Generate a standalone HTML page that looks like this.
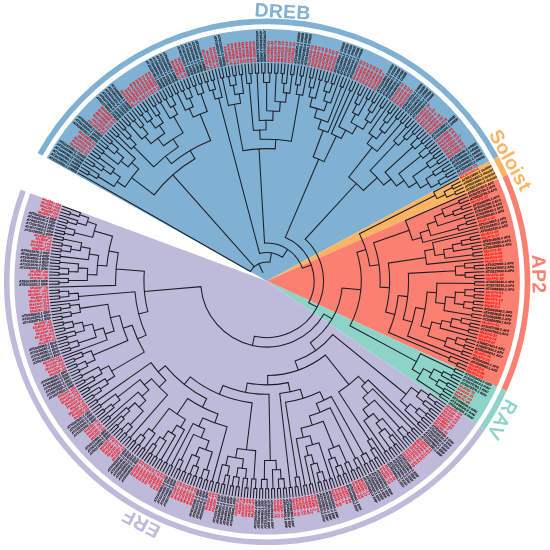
<!DOCTYPE html>
<html lang="en"><head><meta charset="utf-8"><title>AP2/ERF phylogenetic tree</title>
<style>html,body{margin:0;padding:0;background:#fff}svg{display:block}.fam{font-family:"Liberation Sans",Arial,sans-serif;font-weight:bold;font-size:19.4px;letter-spacing:0.3px}.lb{font-family:"Liberation Sans",Arial,sans-serif;font-weight:bold;font-style:italic;font-size:3.1px;fill:#111;stroke:#111;stroke-width:0.14px;opacity:0.92}.lb .r{fill:#f00;stroke:#f00;stroke-width:0.07px;font-size:3.3px}</style></head><body>
<svg width="550" height="550" viewBox="0 0 550 550">
<defs><filter id="soft" x="0" y="0" width="550" height="550" filterUnits="userSpaceOnUse"><feGaussianBlur stdDeviation="0.4"/></filter></defs>
<rect width="550" height="550" fill="#fff"/>
<g>
<path d="M266.8 280.9L46.64 158.08A252.8 252.8 0 0 1 489.26 161.17Z" fill="#80B1D3"/>
<path d="M266.8 280.9L489.26 161.17A252.8 252.8 0 0 1 498.04 178.98Z" fill="#FDB462"/>
<path d="M266.8 280.9L498.04 178.98A252.8 252.8 0 0 1 497.14 386.63Z" fill="#FB8072"/>
<path d="M266.8 280.9L497.14 386.63A252.8 252.8 0 0 1 476.19 423.89Z" fill="#8DD3C7"/>
<path d="M266.8 280.9L476.19 423.89A252.8 252.8 0 0 1 30.31 193.27Z" fill="#BEBADA"/>
</g><g>
<path d="M37.57 152.99A263.2 263.2 0 0 1 498.4 156.21L493.48 158.88A257.6 257.6 0 0 0 42.45 155.74Z" fill="#80B1D3"/>
<path d="M498.4 156.21A263.2 263.2 0 0 1 507.55 174.75L502.43 177.02A257.6 257.6 0 0 0 493.48 158.88Z" fill="#FDB462"/>
<path d="M507.55 174.75A263.2 263.2 0 0 1 506.6 390.95L501.51 388.62A257.6 257.6 0 0 0 502.43 177.02Z" fill="#FB8072"/>
<path d="M506.6 390.95A263.2 263.2 0 0 1 484.79 429.74L480.16 426.59A257.6 257.6 0 0 0 501.51 388.62Z" fill="#8DD3C7"/>
<path d="M484.79 429.74A263.2 263.2 0 0 1 20.57 189.63L25.81 191.59A257.6 257.6 0 0 0 480.16 426.59Z" fill="#BEBADA"/>
</g>
<path d="M250.39 271.52A18.9 18.9 0 0 1 269.87 262.25M250.39 271.52L78.08 173.08M254.26 266.76L172.78 174.82M154.12 194.9A141.75 141.75 0 0 1 194.96 158.7M154.12 194.9L131.58 177.7M125.01 186.94A170.1 170.1 0 0 1 138.75 168.93M125.01 186.94L117.13 181.72M114.07 186.5A179.55 179.55 0 0 1 120.34 177.03M114.07 186.5L97.99 176.57M96.8 178.52A198.45 198.45 0 0 1 99.2 174.63M96.8 178.52L88.7 173.64M87.89 175.01A207.9 207.9 0 0 1 89.53 172.28M87.89 175.01L79.75 170.2M89.53 172.28L81.47 167.34M99.2 174.63L83.24 164.51M120.34 177.03L112.63 171.57M110.77 174.24A189 189 0 0 1 114.54 168.92M110.77 174.24L102.97 168.91M101.69 170.8A198.45 198.45 0 0 1 104.27 167.03M101.69 170.8L93.83 165.56M92.95 166.89A207.9 207.9 0 0 1 94.72 164.24M92.95 166.89L85.05 161.71M94.72 164.24L86.9 158.93M104.27 167.03L88.79 156.19M114.54 168.92L99.32 157.72M98.38 159.01A207.9 207.9 0 0 1 100.27 156.44M98.38 159.01L90.72 153.47M100.27 156.44L92.7 150.79M138.75 168.93L131.64 162.71M128.08 166.91A179.55 179.55 0 0 1 135.33 158.62M128.08 166.91L120.77 160.91M118.05 164.3A189 189 0 0 1 123.57 157.58M118.05 164.3L103.18 152.64M102.2 153.9A207.9 207.9 0 0 1 104.17 151.39M102.2 153.9L94.72 148.13M104.17 151.39L96.77 145.5M123.57 157.58L116.41 151.42M114.44 153.74A198.45 198.45 0 0 1 118.42 149.12M114.44 153.74L107.19 147.68M106.17 148.91A207.9 207.9 0 0 1 108.22 146.46M106.17 148.91L98.87 142.91M108.22 146.46L101.01 140.35M118.42 149.12L111.35 142.85M110.3 144.04A207.9 207.9 0 0 1 112.42 141.66M110.3 144.04L103.18 137.82M112.42 141.66L105.4 135.33M135.33 158.62L107.65 132.87M194.96 158.7L190.17 150.56M171.43 163.57A151.2 151.2 0 0 1 210.65 140.51M171.43 163.57L165.47 156.24M153.67 166.84A160.65 160.65 0 0 1 178.26 146.85M153.67 166.84L133.7 146.71M131.41 149.03A189 189 0 0 1 136.04 144.43M131.41 149.03L117.87 135.84M116.76 136.99A207.9 207.9 0 0 1 118.99 134.7M116.76 136.99L109.94 130.45M118.99 134.7L112.27 128.06M136.04 144.43L129.5 137.61M127.86 139.2A198.45 198.45 0 0 1 131.16 136.04M127.86 139.2L114.63 125.7M131.16 136.04L124.7 129.14M123.54 130.24A207.9 207.9 0 0 1 125.87 128.06M123.54 130.24L117.03 123.39M125.87 128.06L119.46 121.11M178.26 146.85L173.05 138.97M163.48 145.78A170.1 170.1 0 0 1 183.06 132.84M163.48 145.78L157.74 138.27M151.03 143.66A179.55 179.55 0 0 1 164.7 133.2M151.03 143.66L144.93 136.44M141.91 139.04A189 189 0 0 1 148.01 133.9M141.91 139.04L129.42 124.85M128.23 125.91A207.9 207.9 0 0 1 130.63 123.8M128.23 125.91L121.93 118.87M130.63 123.8L124.44 116.66M148.01 133.9L142.07 126.55M140.3 127.99A198.45 198.45 0 0 1 143.85 125.12M140.3 127.99L134.28 120.71M133.05 121.73A207.9 207.9 0 0 1 135.51 119.7M133.05 121.73L126.97 114.5M135.51 119.7L129.54 112.37M143.85 125.12L132.14 110.29M164.7 133.2L159.33 125.43M155.48 128.16A189 189 0 0 1 163.24 122.8M155.48 128.16L149.92 120.52M147.47 122.33A198.45 198.45 0 0 1 152.39 118.75M147.47 122.33L141.79 114.78M140.52 115.75A207.9 207.9 0 0 1 143.07 113.83M140.52 115.75L134.78 108.24M143.07 113.83L137.44 106.24M152.39 118.75L146.94 111.03M145.65 111.95A207.9 207.9 0 0 1 148.25 110.11M145.65 111.95L140.14 104.27M148.25 110.11L142.86 102.35M163.24 122.8L158.06 114.9M156.15 116.16A198.45 198.45 0 0 1 159.98 113.65M156.15 116.16L145.62 100.47M159.98 113.65L154.89 105.69M153.55 106.55A207.9 207.9 0 0 1 156.24 104.84M153.55 106.55L148.4 98.63M156.24 104.84L151.21 96.83M183.06 132.84L173.76 116.39M170 118.57A189 189 0 0 1 177.57 114.29M170 118.57L160.32 102.34M158.95 103.16A207.9 207.9 0 0 1 161.69 101.53M158.95 103.16L154.05 95.08M161.69 101.53L156.91 93.37M177.57 114.29L173.11 105.96M170.43 107.42A198.45 198.45 0 0 1 175.8 104.54M170.43 107.42L165.85 99.16M164.45 99.94A207.9 207.9 0 0 1 167.24 98.39M164.45 99.94L159.8 91.71M167.24 98.39L162.72 90.09M175.8 104.54L171.47 96.14M170.06 96.88A207.9 207.9 0 0 1 172.89 95.42M170.06 96.88L165.66 88.52M172.89 95.42L168.62 86.99M210.65 140.51L200.13 114.19M193.15 117.15A179.55 179.55 0 0 1 207.22 111.52M193.15 117.15L189.28 108.53M185.33 110.36A189 189 0 0 1 193.26 106.79M185.33 110.36L177.18 93.31M175.75 94A207.9 207.9 0 0 1 178.63 92.62M175.75 94L171.61 85.5M178.63 92.62L174.62 84.07M193.26 106.79L189.59 98.09M186.79 99.29A198.45 198.45 0 0 1 192.4 96.92M186.79 99.29L182.98 90.65M181.52 91.29A207.9 207.9 0 0 1 184.44 90.01M181.52 91.29L177.65 82.68M184.44 90.01L180.7 81.33M192.4 96.92L188.86 88.16M187.38 88.77A207.9 207.9 0 0 1 190.34 87.57M187.38 88.77L183.77 80.03M190.34 87.57L186.86 78.78M207.22 111.52L200.95 93.7M198.08 94.73A198.45 198.45 0 0 1 203.83 92.71M198.08 94.73L194.81 85.86M193.32 86.42A207.9 207.9 0 0 1 196.31 85.32M193.32 86.42L189.97 77.58M196.31 85.32L193.1 76.43M203.83 92.71L200.83 83.75M199.32 84.26A207.9 207.9 0 0 1 202.34 83.24M199.32 84.26L196.25 75.32M202.34 83.24L199.41 74.26M269.87 262.25L271.41 252.93M259.57 253.49A28.35 28.35 0 0 1 282.44 257.25M259.57 253.49L218.63 98.14M215.14 99.1A189 189 0 0 1 222.15 97.25M215.14 99.1L212.55 90.01M209.63 90.86A198.45 198.45 0 0 1 215.49 89.2M209.63 90.86L206.91 81.81M205.38 82.28A207.9 207.9 0 0 1 208.44 81.36M205.38 82.28L202.59 73.25M208.44 81.36L205.78 72.29M215.49 89.2L213.04 80.07M211.51 80.49A207.9 207.9 0 0 1 214.59 79.66M211.51 80.49L208.99 71.38M214.59 79.66L212.21 70.52M222.15 97.25L215.45 69.7M282.44 257.25L287.65 249.37M264.58 243.17A37.8 37.8 0 0 1 302.39 268.18M264.58 243.17L259.03 148.83M242.99 150.76A132.3 132.3 0 0 1 275.2 148.87M242.99 150.76L234.48 104.28M228.41 105.5A179.55 179.55 0 0 1 240.6 103.27M228.41 105.5L222.34 77.81M220.79 78.16A207.9 207.9 0 0 1 223.9 77.47M220.79 78.16L218.69 68.94M223.9 77.47L221.95 68.23M240.6 103.27L239.22 93.92M234.92 94.61A189 189 0 0 1 243.53 93.34M234.92 94.61L233.33 85.29M230.33 85.83A198.45 198.45 0 0 1 236.33 84.8M230.33 85.83L228.6 76.54M227.03 76.84A207.9 207.9 0 0 1 230.16 76.25M227.03 76.84L225.22 67.56M230.16 76.25L228.5 66.95M236.33 84.8L234.88 75.46M233.31 75.72A207.9 207.9 0 0 1 236.46 75.23M233.31 75.72L231.79 66.39M236.46 75.23L235.08 65.88M243.53 93.34L241.2 74.58M239.62 74.78A207.9 207.9 0 0 1 242.79 74.39M239.62 74.78L238.38 65.42M242.79 74.39L241.69 65M275.2 148.87L275.8 139.44M260.16 139.31A141.75 141.75 0 0 1 291.32 141.29M260.16 139.31L259.72 129.87M253.37 130.3A151.2 151.2 0 0 1 266.08 129.7M253.37 130.3L249.18 83.23M246.9 83.45A198.45 198.45 0 0 1 251.45 83.04M246.9 83.45L245.01 64.65M251.45 83.04L250.72 73.62M249.13 73.75A207.9 207.9 0 0 1 252.31 73.51M249.13 73.75L248.33 64.34M252.31 73.51L251.65 64.08M266.08 129.7L266.03 120.25M259.3 120.43A160.65 160.65 0 0 1 272.77 120.36M259.3 120.43L257.09 73.23M255.5 73.31A207.9 207.9 0 0 1 258.68 73.16M255.5 73.31L254.98 63.87M258.68 73.16L258.31 63.72M272.77 120.36L273.12 110.92M266.68 110.8A170.1 170.1 0 0 1 279.56 111.28M266.68 110.8L266.66 82.45M263.62 82.48A198.45 198.45 0 0 1 269.71 82.47M263.62 82.48L263.47 73.03M261.87 73.06A207.9 207.9 0 0 1 265.06 73.01M261.87 73.06L261.65 63.61M265.06 73.01L264.98 63.56M269.71 82.47L269.85 73.02M268.25 73.01A207.9 207.9 0 0 1 271.44 73.05M268.25 73.01L268.32 63.56M271.44 73.05L271.65 63.6M279.56 111.28L280.27 101.86M274.94 101.53A179.55 179.55 0 0 1 285.58 102.34M274.94 101.53L276.22 73.21M274.63 73.15A207.9 207.9 0 0 1 277.82 73.29M274.63 73.15L274.99 63.7M277.82 73.29L278.32 63.86M285.58 102.34L286.57 92.94M283.32 92.62A189 189 0 0 1 289.81 93.31M283.32 92.62L284.15 83.21M281.87 83.02A198.45 198.45 0 0 1 286.42 83.42M281.87 83.02L282.59 73.6M281 73.49A207.9 207.9 0 0 1 284.18 73.73M281 73.49L281.65 64.06M284.18 73.73L284.97 64.31M286.42 83.42L288.29 64.62M289.81 93.31L292.11 74.55M290.53 74.36A207.9 207.9 0 0 1 293.7 74.75M290.53 74.36L291.61 64.97M293.7 74.75L294.92 65.38M291.32 141.29L299.49 94.75M296.27 94.21A189 189 0 0 1 302.7 95.34M296.27 94.21L297.75 84.88M295.49 84.53A198.45 198.45 0 0 1 300 85.25M295.49 84.53L298.22 65.83M300 85.25L301.58 75.93M300.01 75.67A207.9 207.9 0 0 1 303.15 76.2M300.01 75.67L301.52 66.34M303.15 76.2L304.81 66.9M302.7 95.34L308.08 67.51M302.39 268.18L311.29 265M285.33 237.43A47.25 47.25 0 0 1 308.68 302.77M285.33 237.43L318.68 159.19M313.18 157A132.3 132.3 0 0 1 324.06 161.64M313.18 157L323.12 130.45M318.23 128.7A160.65 160.65 0 0 1 327.96 132.35M318.23 128.7L321.25 119.75M314.48 117.62A170.1 170.1 0 0 1 327.92 122.16M314.48 117.62L317.13 108.55M309.98 106.62A179.55 179.55 0 0 1 324.19 110.77M309.98 106.62L312.26 97.45M309.08 96.69A189 189 0 0 1 315.42 98.26M309.08 96.69L311.2 87.48M308.97 86.98A198.45 198.45 0 0 1 313.42 88M308.97 86.98L310.98 77.75M309.42 77.41A207.9 207.9 0 0 1 312.53 78.09M309.42 77.41L311.35 68.17M312.53 78.09L314.61 68.87M313.42 88L317.86 69.63M315.42 98.26L320.28 80M318.74 79.59A207.9 207.9 0 0 1 321.82 80.41M318.74 79.59L321.1 70.44M321.82 80.41L324.32 71.3M324.19 110.77L327.21 101.82M323.77 100.69A189 189 0 0 1 330.64 103.01M323.77 100.69L326.62 91.68M323.71 90.78A198.45 198.45 0 0 1 329.51 92.62M323.71 90.78L326.42 81.73M324.89 81.28A207.9 207.9 0 0 1 327.94 82.19M324.89 81.28L327.53 72.21M327.94 82.19L330.72 73.16M329.51 92.62L332.5 83.65M330.99 83.16A207.9 207.9 0 0 1 334.01 84.16M330.99 83.16L333.9 74.17M334.01 84.16L337.07 75.22M330.64 103.01L340.21 76.32M327.92 122.16L341.51 86.89M340.02 86.32A207.9 207.9 0 0 1 342.99 87.47M340.02 86.32L343.34 77.47M342.99 87.47L346.46 78.67M327.96 132.35L349.55 79.92M324.06 161.64L336.34 136.08M331.37 133.8A160.65 160.65 0 0 1 341.22 138.53M331.37 133.8L350.36 90.53M348.89 89.89A207.9 207.9 0 0 1 351.81 91.18M348.89 89.89L352.62 81.21M351.81 91.18L355.68 82.55M341.22 138.53L345.6 130.15M338.73 126.76A170.1 170.1 0 0 1 352.31 133.86M338.73 126.76L358.71 83.94M352.31 133.86L357.07 125.69M351.05 122.34A179.55 179.55 0 0 1 362.95 129.26M351.05 122.34L355.48 114M352.59 112.49A189 189 0 0 1 358.35 115.55M352.59 112.49L356.88 104.07M354.83 103.05A198.45 198.45 0 0 1 358.9 105.12M354.83 103.05L359.03 94.58M357.59 93.87A207.9 207.9 0 0 1 360.45 95.29M357.59 93.87L361.72 85.37M360.45 95.29L364.71 86.85M358.9 105.12L367.68 88.38M358.35 115.55L367.5 99.02M366.1 98.25A207.9 207.9 0 0 1 368.9 99.8M366.1 98.25L370.62 89.95M368.9 99.8L373.54 91.56M362.95 129.26L368.01 121.28M365.24 119.56A189 189 0 0 1 370.75 123.05M365.24 119.56L370.16 111.49M368.21 110.32A198.45 198.45 0 0 1 372.11 112.69M368.21 110.32L373.04 102.19M371.66 101.38A207.9 207.9 0 0 1 374.4 103.01M371.66 101.38L376.43 93.22M374.4 103.01L379.3 94.93M372.11 112.69L382.14 96.68M370.75 123.05L381.15 107.27M379.81 106.4A207.9 207.9 0 0 1 382.48 108.15M379.81 106.4L384.95 98.47M382.48 108.15L387.73 100.3M308.68 302.77L317.06 307.15M305.17 239.15A56.7 56.7 0 0 1 254.46 336.24M305.17 239.15L356.32 183.49M348.77 177.05A132.3 132.3 0 0 1 363.38 190.48M348.77 177.05L372.19 147.38M367.19 143.58A170.1 170.1 0 0 1 377.05 151.36M367.19 143.58L372.77 135.95M368.98 133.26A179.55 179.55 0 0 1 376.48 138.75M368.98 133.26L390.49 102.18M376.48 138.75L382.26 131.26M379.66 129.29A189 189 0 0 1 384.82 133.28M379.66 129.29L385.3 121.71M383.46 120.36A198.45 198.45 0 0 1 387.12 123.09M383.46 120.36L389.02 112.72M387.72 111.78A207.9 207.9 0 0 1 390.3 113.66M387.72 111.78L393.22 104.1M390.3 113.66L395.92 106.06M387.12 123.09L398.58 108.06M384.82 133.28L396.62 118.52M395.38 117.53A207.9 207.9 0 0 1 397.87 119.52M395.38 117.53L401.22 110.1M397.87 119.52L403.82 112.18M377.05 151.36L401.55 122.58M400.33 121.55A207.9 207.9 0 0 1 402.76 123.62M400.33 121.55L406.4 114.31M402.76 123.62L408.94 116.47M363.38 190.48L377.17 177.56M370.2 170.59A151.2 151.2 0 0 1 383.67 184.97M370.2 170.59L396.05 143.01M393.65 140.8A189 189 0 0 1 398.42 145.26M393.65 140.8L406.34 126.79M405.15 125.72A207.9 207.9 0 0 1 407.52 127.86M405.15 125.72L411.44 118.67M407.52 127.86L413.91 120.91M398.42 145.26L405 138.48M403.35 136.9A198.45 198.45 0 0 1 406.63 140.08M403.35 136.9L416.35 123.18M406.63 140.08L413.28 133.37M412.15 132.25A207.9 207.9 0 0 1 414.41 134.5M412.15 132.25L418.75 125.49M414.41 134.5L421.12 127.84M383.67 184.97L390.98 178.98M385.12 172.23A160.65 160.65 0 0 1 396.45 186.04M385.12 172.23L412.96 146.66M410.88 144.43A198.45 198.45 0 0 1 415 148.92M410.88 144.43L417.74 137.94M416.64 136.78A207.9 207.9 0 0 1 418.83 139.1M416.64 136.78L423.45 130.23M418.83 139.1L425.74 132.65M415 148.92L422.06 142.63M420.99 141.45A207.9 207.9 0 0 1 423.11 143.83M420.99 141.45L428 135.11M423.11 143.83L430.22 137.6M396.45 186.04L404.08 180.46M398.9 173.74A170.1 170.1 0 0 1 408.91 187.42M398.9 173.74L420.92 155.88M418.98 153.53A198.45 198.45 0 0 1 422.82 158.26M418.98 153.53L426.23 147.46M425.2 146.24A207.9 207.9 0 0 1 427.25 148.69M425.2 146.24L432.4 140.12M427.25 148.69L434.54 142.68M422.82 158.26L430.25 152.42M429.26 151.17A207.9 207.9 0 0 1 431.23 153.67M429.26 151.17L436.64 145.27M431.23 153.67L438.7 147.89M408.91 187.42L416.81 182.23M412.91 176.55A179.55 179.55 0 0 1 420.48 188.06M412.91 176.55L428.29 165.57M426.51 163.1A198.45 198.45 0 0 1 430.05 168.06M426.51 163.1L434.11 157.49M433.16 156.21A207.9 207.9 0 0 1 435.05 158.78M433.16 156.21L440.72 150.54M435.05 158.78L442.7 153.23M430.05 168.06L437.82 162.68M436.91 161.38A207.9 207.9 0 0 1 438.72 164M436.91 161.38L444.64 155.94M438.72 164L446.54 158.69M420.48 188.06L428.57 183.17M425.89 178.86A189 189 0 0 1 431.14 187.55M425.89 178.86L433.84 173.76M432.6 171.84A198.45 198.45 0 0 1 435.06 175.69M432.6 171.84L448.39 161.46M435.06 175.69L443.08 170.68M442.23 169.33A207.9 207.9 0 0 1 443.92 172.03M442.23 169.33L450.2 164.26M443.92 172.03L451.97 167.09M431.14 187.55L439.35 182.88M438.21 180.9A198.45 198.45 0 0 1 440.47 184.87M438.21 180.9L446.38 176.14M445.57 174.76A207.9 207.9 0 0 1 447.17 177.52M445.57 174.76L453.69 169.94M447.17 177.52L455.37 172.82M440.47 184.87L457.01 175.73M254.46 336.24L252.4 345.46M324.02 314.09A66.15 66.15 0 0 1 200.9 286.63M324.02 314.09L332.2 318.83M342.07 287.99A75.6 75.6 0 0 1 310.33 342.71M342.07 287.99L360.88 289.76M356.89 252.37A94.5 94.5 0 0 1 349.98 325.75M356.89 252.37L365.9 249.51M359.48 233.83A103.95 103.95 0 0 1 369.68 266.03M359.48 233.83L435.31 195.32M433.6 192.02A189 189 0 0 1 436.96 198.64M433.6 192.02L458.62 178.69M436.96 198.64L445.47 194.53M444.09 191.73A198.45 198.45 0 0 1 446.8 197.35M444.09 191.73L452.53 187.49M451.79 186.03A207.9 207.9 0 0 1 453.26 188.95M451.79 186.03L460.2 181.72M453.26 188.95L461.74 184.77M446.8 197.35L455.37 193.37M454.68 191.89A207.9 207.9 0 0 1 456.06 194.85M454.68 191.89L463.22 187.84M456.06 194.85L464.66 190.94M369.68 266.03L379.03 264.68M373.63 242.86A113.4 113.4 0 0 1 380.03 287.13M373.63 242.86L409.24 230.19M405.4 220.47A151.2 151.2 0 0 1 412.4 240.15M405.4 220.47L466.03 194.03M412.4 240.15L421.5 237.6M420.09 232.82A160.65 160.65 0 0 1 422.77 242.42M420.09 232.82L429.1 229.99M427.22 224.33A170.1 170.1 0 0 1 430.79 235.72M427.22 224.33L436.13 221.18M434.4 216.49A179.55 179.55 0 0 1 437.73 225.93M434.4 216.49L443.22 213.09M441.74 209.38A189 189 0 0 1 444.61 216.84M441.74 209.38L459.24 202.22M458.63 200.75A207.9 207.9 0 0 1 459.84 203.71M458.63 200.75L467.35 197.1M459.84 203.71L468.61 200.2M444.61 216.84L453.5 213.64M452.72 211.49A198.45 198.45 0 0 1 454.27 215.8M452.72 211.49L461.57 208.18M461 206.69A207.9 207.9 0 0 1 462.12 209.69M461 206.69L469.83 203.31M462.12 209.69L471 206.45M454.27 215.8L472.12 209.6M437.73 225.93L464.72 217.25M464.22 215.73A207.9 207.9 0 0 1 465.2 218.78M464.22 215.73L473.2 212.77M465.2 218.78L474.22 215.95M430.79 235.72L458.12 228.19M457.5 225.99A198.45 198.45 0 0 1 458.72 230.4M457.5 225.99L466.58 223.37M466.13 221.84A207.9 207.9 0 0 1 467.02 224.91M466.13 221.84L475.19 219.15M467.02 224.91L476.12 222.37M458.72 230.4L477 225.6M422.77 242.42L477.82 228.84M380.03 287.13L389.46 287.65M388.34 263.04A122.85 122.85 0 0 1 385.65 312M388.34 263.04L425.74 257.54M424.6 250.8A160.65 160.65 0 0 1 426.59 264.32M424.6 250.8L433.89 249.03M432.56 242.7A170.1 170.1 0 0 1 434.98 255.4M432.56 242.7L478.6 232.09M434.98 255.4L444.32 253.98M443.62 249.72A179.55 179.55 0 0 1 444.92 258.26M443.62 249.72L452.93 248.08M452.33 244.86A189 189 0 0 1 453.47 251.3M452.33 244.86L461.61 243.06M461.16 240.81A198.45 198.45 0 0 1 462.03 245.31M461.16 240.81L470.41 238.9M470.08 237.34A207.9 207.9 0 0 1 470.73 240.47M470.08 237.34L479.32 235.36M470.73 240.47L480 238.63M462.03 245.31L480.63 241.92M453.47 251.3L472.14 248.34M471.88 246.77A207.9 207.9 0 0 1 472.38 249.93M471.88 246.77L481.2 245.21M472.38 249.93L481.72 248.52M444.92 258.26L473.04 254.68M472.83 253.09A207.9 207.9 0 0 1 473.24 256.27M472.83 253.09L482.2 251.83M473.24 256.27L482.62 255.15M426.59 264.32L482.99 258.47M385.65 312L394.79 314.39M398.28 295.58A132.3 132.3 0 0 1 388.62 332.5M398.28 295.58L407.67 296.63M408.35 273.34A141.75 141.75 0 0 1 403.2 319.49M408.35 273.34L455.53 270.82M455.25 266.47A189 189 0 0 1 455.71 275.18M455.25 266.47L464.67 265.75M464.48 263.46A198.45 198.45 0 0 1 464.83 268.03M464.48 263.46L483.31 261.8M464.83 268.03L474.26 267.42M474.15 265.82A207.9 207.9 0 0 1 474.36 269.01M474.15 265.82L483.58 265.14M474.36 269.01L483.79 268.47M455.71 275.18L465.16 274.89M465.08 272.61A198.45 198.45 0 0 1 465.22 277.18M465.08 272.61L483.96 271.82M465.22 277.18L474.66 277.01M474.63 275.41A207.9 207.9 0 0 1 474.69 278.61M474.63 275.41L484.07 275.16M474.69 278.61L484.14 278.5M403.2 319.49L412.29 322.07M415.62 307.63A151.2 151.2 0 0 1 407.56 336.1M415.62 307.63L424.92 309.31M427.06 292.1A160.65 160.65 0 0 1 420.94 326.18M427.06 292.1L436.49 292.76M436.89 282.95A170.1 170.1 0 0 1 435.52 302.53M436.89 282.95L474.68 283.41M474.7 281.81A207.9 207.9 0 0 1 474.66 285.01M474.7 281.81L484.15 281.85M474.66 285.01L484.11 285.19M435.52 302.53L444.89 303.73M445.64 296.86A179.55 179.55 0 0 1 443.88 310.56M445.64 296.86L455.05 297.7M455.48 291.9A189 189 0 0 1 454.45 303.49M455.48 291.9L464.91 292.45M465.07 289.4A198.45 198.45 0 0 1 464.71 295.5M465.07 289.4L474.51 289.8M474.57 288.21A207.9 207.9 0 0 1 474.43 291.4M474.57 288.21L484.02 288.54M474.43 291.4L483.87 291.88M464.71 295.5L474.14 296.19M474.25 294.6A207.9 207.9 0 0 1 474.01 297.79M474.25 294.6L483.68 295.22M474.01 297.79L483.43 298.55M454.45 303.49L463.83 304.62M464.17 301.58A198.45 198.45 0 0 1 463.44 307.65M464.17 301.58L473.57 302.57M473.73 300.97A207.9 207.9 0 0 1 473.4 304.16M473.73 300.97L483.13 301.89M473.4 304.16L482.79 305.21M463.44 307.65L472.8 308.92M473.01 307.33A207.9 207.9 0 0 1 472.58 310.5M473.01 307.33L482.39 308.53M472.58 310.5L481.94 311.85M443.88 310.56L471.84 315.25M472.1 313.67A207.9 207.9 0 0 1 471.57 316.82M472.1 313.67L481.43 315.16M471.57 316.82L480.88 318.46M420.94 326.18L430 328.84M431.87 321.97A170.1 170.1 0 0 1 427.86 335.63M431.87 321.97L441.04 324.26M441.95 320.39A179.55 179.55 0 0 1 440.04 328.1M441.95 320.39L451.17 322.47M452.01 318.56A189 189 0 0 1 450.25 326.36M452.01 318.56L461.27 320.44M461.71 318.19A198.45 198.45 0 0 1 460.8 322.68M461.71 318.19L480.28 321.75M460.8 322.68L470.04 324.67M470.37 323.11A207.9 207.9 0 0 1 469.7 326.24M470.37 323.11L479.62 325.03M469.7 326.24L478.92 328.3M450.25 326.36L468.6 330.91M468.97 329.35A207.9 207.9 0 0 1 468.21 332.46M468.97 329.35L478.16 331.56M468.21 332.46L477.36 334.8M440.04 328.1L476.51 338.04M427.86 335.63L445.75 341.71M447.11 337.56A189 189 0 0 1 444.3 345.82M447.11 337.56L456.12 340.39M457.02 337.47A198.45 198.45 0 0 1 455.18 343.3M457.02 337.47L466.07 340.17M466.52 338.63A207.9 207.9 0 0 1 465.61 341.7M466.52 338.63L475.6 341.26M465.61 341.7L474.65 344.46M455.18 343.3L464.15 346.27M464.65 344.75A207.9 207.9 0 0 1 463.65 347.79M464.65 344.75L473.64 347.65M463.65 347.79L472.59 350.83M444.3 345.82L462.05 352.32M462.59 350.81A207.9 207.9 0 0 1 461.49 353.82M462.59 350.81L471.49 353.99M461.49 353.82L470.34 357.13M407.56 336.1L469.15 360.25M388.62 332.5L449.53 358.3M450.41 356.19A198.45 198.45 0 0 1 448.63 360.41M450.41 356.19L467.9 363.36M448.63 360.41L457.29 364.19M457.92 362.72A207.9 207.9 0 0 1 456.64 365.66M457.92 362.72L466.61 366.44M456.64 365.66L465.27 369.51M349.98 325.75L416.53 361.62M420.48 353.81A170.1 170.1 0 0 1 412.18 369.22M420.48 353.81L454.63 370.02M455.31 368.57A207.9 207.9 0 0 1 453.94 371.46M455.31 368.57L463.88 372.55M453.94 371.46L462.45 375.58M412.18 369.22L420.25 374.12M423.47 368.6A179.55 179.55 0 0 1 416.84 379.52M423.47 368.6L431.72 373.22M433.98 369.07A189 189 0 0 1 429.36 377.32M433.98 369.07L442.33 373.48M443.39 371.44A198.45 198.45 0 0 1 441.25 375.5M443.39 371.44L451.8 375.75M452.52 374.33A207.9 207.9 0 0 1 451.06 377.18M452.52 374.33L460.97 378.57M451.06 377.18L459.44 381.55M441.25 375.5L457.87 384.5M429.36 377.32L437.49 382.14M439.02 379.5A198.45 198.45 0 0 1 435.91 384.75M439.02 379.5L447.22 384.19M448.01 382.8A207.9 207.9 0 0 1 446.42 385.58M448.01 382.8L456.25 387.43M446.42 385.58L454.59 390.34M435.91 384.75L443.96 389.7M444.79 388.33A207.9 207.9 0 0 1 443.12 391.06M444.79 388.33L452.88 393.21M443.12 391.06L451.13 396.06M416.84 379.52L440.53 395.1M441.4 393.76A207.9 207.9 0 0 1 439.64 396.43M441.4 393.76L449.34 398.89M439.64 396.43L447.5 401.68M310.33 342.71L315.77 350.44M332.76 334.59A85.05 85.05 0 0 1 295.12 361.1M332.76 334.59L406.05 394.25M411.28 387.5A179.55 179.55 0 0 1 400.51 400.74M411.28 387.5L418.89 393.11M421.22 389.87A189 189 0 0 1 416.48 396.3M421.22 389.87L428.94 395.32M430.14 393.6A198.45 198.45 0 0 1 427.73 397.03M430.14 393.6L445.7 404.33M427.73 397.03L435.39 402.56M436.24 401.36A207.9 207.9 0 0 1 434.53 403.74M436.24 401.36L443.94 406.84M434.53 403.74L442.15 409.32M416.48 396.3L423.96 402.07M425.24 400.4A198.45 198.45 0 0 1 422.68 403.72M425.24 400.4L440.33 411.78M422.68 403.72L430.1 409.57M431 408.42A207.9 207.9 0 0 1 429.19 410.72M431 408.42L438.46 414.21M429.19 410.72L436.57 416.62M400.51 400.74L407.54 407.04M410.18 404.04A189 189 0 0 1 404.85 409.99M410.18 404.04L417.35 410.2M419.15 408.07A198.45 198.45 0 0 1 415.51 412.31M419.15 408.07L426.41 414.12M427.34 412.99A207.9 207.9 0 0 1 425.47 415.24M427.34 412.99L434.64 419M425.47 415.24L432.68 421.35M415.51 412.31L422.59 418.57M423.56 417.46A207.9 207.9 0 0 1 421.62 419.66M423.56 417.46L430.68 423.67M421.62 419.66L428.65 425.97M404.85 409.99L418.65 422.9M419.65 421.83A207.9 207.9 0 0 1 417.65 423.97M419.65 421.83L426.59 428.23M417.65 423.97L424.5 430.47M295.12 361.1L298.27 370.01M325.45 354.99A94.5 94.5 0 0 1 267.68 375.4M325.45 354.99L348.92 384.63M358.44 376.33A132.3 132.3 0 0 1 338.65 391.99M358.44 376.33L364.98 383.14M368.26 379.88A141.75 141.75 0 0 1 361.59 386.29M368.26 379.88L422.38 432.68M361.59 386.29L367.91 393.32M372.77 388.75A151.2 151.2 0 0 1 362.85 397.67M372.77 388.75L412.51 429.19M413.56 428.16A207.9 207.9 0 0 1 411.47 430.21M413.56 428.16L420.23 434.85M411.47 430.21L418.04 437M362.85 397.67L368.86 404.97M374.45 400.14A160.65 160.65 0 0 1 363.04 409.53M374.45 400.14L399.79 428.2M401.85 426.31A198.45 198.45 0 0 1 397.7 430.06M401.85 426.31L408.28 433.24M409.35 432.24A207.9 207.9 0 0 1 407.2 434.23M409.35 432.24L415.83 439.11M407.2 434.23L413.58 441.2M397.7 430.06L403.93 437.16M405.03 436.19A207.9 207.9 0 0 1 402.83 438.12M405.03 436.19L411.31 443.25M402.83 438.12L409.01 445.27M363.04 409.53L368.7 417.1M373.38 413.47A170.1 170.1 0 0 1 363.9 420.56M373.38 413.47L379.3 420.84M382.35 418.33A179.55 179.55 0 0 1 376.19 423.28M382.35 418.33L406.68 447.26M376.19 423.28L381.95 430.77M384.83 428.51A189 189 0 0 1 379.02 432.98M384.83 428.51L390.73 435.89M392.36 434.58A198.45 198.45 0 0 1 389.09 437.2M392.36 434.58L404.32 449.21M389.09 437.2L394.91 444.64M396.06 443.73A207.9 207.9 0 0 1 393.75 445.54M396.06 443.73L401.94 451.13M393.75 445.54L399.52 453.02M379.02 432.98L390.25 448.18M391.42 447.31A207.9 207.9 0 0 1 389.06 449.05M391.42 447.31L397.09 454.87M389.06 449.05L394.62 456.69M363.9 420.56L385.48 451.59M386.68 450.75A207.9 207.9 0 0 1 384.28 452.43M386.68 450.75L392.13 458.48M384.28 452.43L389.62 460.22M338.65 391.99L369.44 439.6M371.39 438.32A189 189 0 0 1 367.48 440.85M371.39 438.32L387.08 461.94M367.48 440.85L372.51 448.85M374.28 447.72A198.45 198.45 0 0 1 370.73 449.96M374.28 447.72L384.52 463.61M370.73 449.96L375.68 458.01M376.92 457.24A207.9 207.9 0 0 1 374.43 458.77M376.92 457.24L381.93 465.25M374.43 458.77L379.32 466.86M267.68 375.4L267.77 384.85M288.18 382.63A103.95 103.95 0 0 1 247.32 383.01M288.18 382.63L290.12 391.88M300.3 389.24A113.4 113.4 0 0 1 279.75 393.56M300.3 389.24L303.09 398.27M319.86 391.7A122.85 122.85 0 0 1 285.54 402.31M319.86 391.7L323.94 400.23M331.26 396.43A132.3 132.3 0 0 1 316.39 403.55M331.26 396.43L363.49 454.2M365.93 452.82A198.45 198.45 0 0 1 361.04 455.54M365.93 452.82L370.65 461.01M371.91 460.27A207.9 207.9 0 0 1 369.37 461.73M371.91 460.27L376.69 468.42M369.37 461.73L374.04 469.95M361.04 455.54L365.53 463.86M366.82 463.16A207.9 207.9 0 0 1 364.24 464.55M366.82 463.16L371.36 471.45M364.24 464.55L368.67 472.9M316.39 403.55L319.93 412.32M330.13 407.72A141.75 141.75 0 0 1 309.41 416.1M330.13 407.72L355.46 458.44M357.33 457.5A198.45 198.45 0 0 1 353.58 459.37M357.33 457.5L365.95 474.32M353.58 459.37L357.71 467.87M359.03 467.22A207.9 207.9 0 0 1 356.39 468.51M359.03 467.22L363.22 475.69M356.39 468.51L360.46 477.03M309.41 416.1L312.25 425.11M323.18 421.19A151.2 151.2 0 0 1 301.04 428.17M323.18 421.19L333.75 447.5M339 445.29A179.55 179.55 0 0 1 328.44 449.54M339 445.29L346.6 462.6M348.52 461.75A198.45 198.45 0 0 1 344.68 463.43M348.52 461.75L352.41 470.36M353.74 469.75A207.9 207.9 0 0 1 351.07 470.96M353.74 469.75L357.69 478.33M351.07 470.96L354.9 479.59M344.68 463.43L352.09 480.82M328.44 449.54L331.68 458.41M334.8 457.24A189 189 0 0 1 328.55 459.53M334.8 457.24L338.2 466.06M340.8 465.04A198.45 198.45 0 0 1 335.58 467.05M340.8 465.04L344.32 473.81M345.68 473.25A207.9 207.9 0 0 1 342.96 474.35M345.68 473.25L349.27 482M342.96 474.35L346.43 483.14M335.58 467.05L338.86 475.91M340.23 475.4A207.9 207.9 0 0 1 337.48 476.42M340.23 475.4L343.57 484.24M337.48 476.42L340.7 485.3M328.55 459.53L337.81 486.32M301.04 428.17L303.18 437.38M309.97 435.64A160.65 160.65 0 0 1 296.33 438.81M309.97 435.64L312.51 444.74M318.96 442.8A170.1 170.1 0 0 1 305.98 446.43M318.96 442.8L330.55 478.78M331.95 478.33A207.9 207.9 0 0 1 329.16 479.23M331.95 478.33L334.91 487.3M329.16 479.23L331.99 488.24M305.98 446.43L308.16 455.62M311.53 454.79A179.55 179.55 0 0 1 304.76 456.39M311.53 454.79L313.89 463.94M317.1 463.08A189 189 0 0 1 310.66 464.74M317.1 463.08L319.62 472.19M322.31 471.43A198.45 198.45 0 0 1 316.92 472.92M322.31 471.43L324.95 480.5M326.36 480.09A207.9 207.9 0 0 1 323.55 480.91M326.36 480.09L329.06 489.14M323.55 480.91L326.12 490M316.92 472.92L319.31 482.06M320.72 481.69A207.9 207.9 0 0 1 317.89 482.43M320.72 481.69L323.17 490.81M317.89 482.43L320.21 491.59M310.66 464.74L317.24 492.32M304.76 456.39L310.76 484.1M312.19 483.78A207.9 207.9 0 0 1 309.33 484.4M312.19 483.78L314.25 493.01M309.33 484.4L311.26 493.65M296.33 438.81L305.02 485.26M306.45 484.98A207.9 207.9 0 0 1 303.58 485.52M306.45 484.98L308.26 494.26M303.58 485.52L305.25 494.82M285.54 402.31L297.08 477.03M299.15 476.7A198.45 198.45 0 0 1 295 477.34M299.15 476.7L302.23 495.34M295 477.34L296.35 486.69M297.8 486.48A207.9 207.9 0 0 1 294.9 486.89M297.8 486.48L299.2 495.82M294.9 486.89L296.17 496.26M279.75 393.56L290.54 487.44M291.99 487.27A207.9 207.9 0 0 1 289.08 487.6M291.99 487.27L293.14 496.65M289.08 487.6L290.09 497M247.32 383.01L245.54 392.29M268.99 394.28A113.4 113.4 0 0 1 223.01 385.51M268.99 394.28L270.27 460.42M275.96 460.22A179.55 179.55 0 0 1 264.58 460.44M275.96 460.22L276.44 469.65M280.42 469.41A189 189 0 0 1 272.45 469.82M280.42 469.41L281.11 478.83M283.89 478.61A198.45 198.45 0 0 1 278.32 479.02M283.89 478.61L284.71 488.03M286.17 487.9A207.9 207.9 0 0 1 283.25 488.15M286.17 487.9L287.05 497.3M283.25 488.15L284 497.57M278.32 479.02L278.86 488.45M280.33 488.36A207.9 207.9 0 0 1 277.4 488.53M280.33 488.36L280.94 497.79M277.4 488.53L277.88 497.97M272.45 469.82L273.01 488.71M274.48 488.66A207.9 207.9 0 0 1 271.55 488.75M274.48 488.66L274.82 498.1M271.55 488.75L271.76 498.19M264.58 460.44L264.34 479.33M267.14 479.35A198.45 198.45 0 0 1 261.55 479.28M267.14 479.35L267.15 488.8M268.62 488.79A207.9 207.9 0 0 1 265.69 488.8M268.62 488.79L268.7 498.24M265.69 488.8L265.64 498.25M261.55 479.28L261.3 488.73M262.76 488.76A207.9 207.9 0 0 1 259.83 488.68M262.76 488.76L262.58 498.21M259.83 488.68L259.52 498.13M223.01 385.51L219.36 394.22M252.12 402.87A122.85 122.85 0 0 1 190.22 376.96M252.12 402.87L246.47 449.78M255.71 450.64A170.1 170.1 0 0 1 237.28 448.42M255.71 450.64L253.87 478.93M255.96 479.05A198.45 198.45 0 0 1 251.77 478.78M255.96 479.05L255.44 488.49M256.91 488.56A207.9 207.9 0 0 1 253.98 488.4M256.91 488.56L256.46 498M253.98 488.4L253.4 497.84M251.77 478.78L250.34 497.63M237.28 448.42L235.64 457.73M243.46 458.93A179.55 179.55 0 0 1 227.89 456.18M243.46 458.93L242.23 468.3M246.52 468.81A189 189 0 0 1 237.94 467.68M246.52 468.81L245.51 478.2M247.6 478.42A198.45 198.45 0 0 1 243.43 477.97M247.6 478.42L246.68 487.82M248.14 487.96A207.9 207.9 0 0 1 245.22 487.68M248.14 487.96L247.29 497.37M245.22 487.68L244.24 497.08M243.43 477.97L241.2 496.74M237.94 467.68L236.5 477.02M239.27 477.43A198.45 198.45 0 0 1 233.74 476.58M239.27 477.43L237.95 486.79M239.41 486.99A207.9 207.9 0 0 1 236.51 486.58M239.41 486.99L238.16 496.35M236.51 486.58L235.13 495.93M233.74 476.58L232.17 485.89M233.61 486.13A207.9 207.9 0 0 1 230.72 485.65M233.61 486.13L232.1 495.46M230.72 485.65L229.08 494.95M227.89 456.18L225.84 465.41M229.42 466.17A189 189 0 0 1 222.27 464.58M229.42 466.17L227.55 475.43M229.61 475.83A198.45 198.45 0 0 1 225.5 475M229.61 475.83L226.07 494.4M225.5 475L223.53 484.25M224.97 484.55A207.9 207.9 0 0 1 222.1 483.94M224.97 484.55L223.07 493.8M222.1 483.94L220.07 493.17M222.27 464.58L217.82 482.95M219.25 483.29A207.9 207.9 0 0 1 216.4 482.6M219.25 483.29L217.08 492.49M216.4 482.6L214.11 491.77M190.22 376.96L184.33 384.35M206.65 398.74A132.3 132.3 0 0 1 165.33 365.79M206.65 398.74L202.36 407.15M218.01 413.99A141.75 141.75 0 0 1 187.64 398.49M218.01 413.99L214.75 422.86M227.05 426.78A151.2 151.2 0 0 1 202.83 417.9M227.05 426.78L212.15 481.49M213.56 481.87A207.9 207.9 0 0 1 210.74 481.1M213.56 481.87L211.14 491M210.74 481.1L208.19 490.2M202.83 417.9L198.83 426.46M204.78 429.1A160.65 160.65 0 0 1 192.99 423.59M204.78 429.1L201.14 437.81M208.95 440.86A170.1 170.1 0 0 1 193.48 434.39M208.95 440.86L205.74 449.75M212.32 451.99A179.55 179.55 0 0 1 199.24 447.26M212.32 451.99L206.59 469.99M209.26 470.82A198.45 198.45 0 0 1 203.93 469.13M209.26 470.82L206.52 479.87M207.92 480.29A207.9 207.9 0 0 1 205.12 479.44M207.92 480.29L205.24 489.35M205.12 479.44L202.31 488.46M203.93 469.13L200.94 478.09M202.33 478.55A207.9 207.9 0 0 1 199.55 477.62M202.33 478.55L199.4 487.53M199.55 477.62L196.49 486.56M199.24 447.26L195.69 456.01M199.4 457.47A189 189 0 0 1 192 454.47M199.4 457.47L196.03 466.3M198.65 467.28A198.45 198.45 0 0 1 193.43 465.29M198.65 467.28L195.41 476.16M196.78 476.66A207.9 207.9 0 0 1 194.03 475.65M196.78 476.66L193.6 485.55M194.03 475.65L190.72 484.5M193.43 465.29L189.93 474.07M191.3 474.6A207.9 207.9 0 0 1 188.57 473.52M191.3 474.6L187.86 483.41M188.57 473.52L185.02 482.28M192 454.47L184.52 471.83M185.87 472.4A207.9 207.9 0 0 1 183.18 471.24M185.87 472.4L182.19 481.1M183.18 471.24L179.38 479.89M193.48 434.39L181.26 459.97M183.16 460.86A198.45 198.45 0 0 1 179.37 459.05M183.16 460.86L179.17 469.43M180.5 470.04A207.9 207.9 0 0 1 177.85 468.81M180.5 470.04L176.58 478.64M177.85 468.81L173.8 477.35M179.37 459.05L171.05 476.02M192.99 423.59L171.29 465.56M172.59 466.23A207.9 207.9 0 0 1 169.99 464.88M172.59 466.23L168.31 474.65M169.99 464.88L165.59 473.25M187.64 398.49L177.09 414.17M185.38 419.39A160.65 160.65 0 0 1 169.13 408.45M185.38 419.39L180.59 427.53M184.43 429.72A170.1 170.1 0 0 1 176.81 425.25M184.43 429.72L166.12 462.8M167.4 463.5A207.9 207.9 0 0 1 164.84 462.08M167.4 463.5L162.89 471.8M164.84 462.08L160.21 470.32M176.81 425.25L171.81 433.26M175.46 435.48A179.55 179.55 0 0 1 168.21 430.96M175.46 435.48L161.04 459.89M162.3 460.63A207.9 207.9 0 0 1 159.78 459.14M162.3 460.63L157.55 468.8M159.78 459.14L154.91 467.24M168.21 430.96L163.02 438.86M166.1 440.84A189 189 0 0 1 159.98 436.82M166.1 440.84L156.03 456.84M157.28 457.61A207.9 207.9 0 0 1 154.8 456.05M157.28 457.61L152.3 465.64M154.8 456.05L149.71 464.01M159.98 436.82L154.64 444.62M156.38 445.79A198.45 198.45 0 0 1 152.92 443.42M156.38 445.79L151.12 453.65M152.34 454.46A207.9 207.9 0 0 1 149.91 452.83M152.34 454.46L147.14 462.34M149.91 452.83L144.59 460.64M152.92 443.42L142.07 458.9M169.13 408.45L151.9 430.96M155.1 433.36A189 189 0 0 1 148.75 428.5M155.1 433.36L143.92 448.6M145.11 449.46A207.9 207.9 0 0 1 142.75 447.73M145.11 449.46L139.58 457.13M142.75 447.73L137.11 455.32M148.75 428.5L142.85 435.88M145.05 437.61A198.45 198.45 0 0 1 140.68 434.12M145.05 437.61L139.25 445.07M140.41 445.97A207.9 207.9 0 0 1 138.1 444.17M140.41 445.97L134.66 453.47M138.1 444.17L132.24 451.59M140.68 434.12L134.67 441.41M135.81 442.34A207.9 207.9 0 0 1 133.55 440.48M135.81 442.34L129.85 449.68M133.55 440.48L127.49 447.73M165.33 365.79L158.08 371.86M165.92 380.49A141.75 141.75 0 0 1 150.97 362.61M165.92 380.49L159.2 387.12M167.46 394.88A151.2 151.2 0 0 1 151.55 378.77M167.46 394.88L130.2 437.63M131.31 438.59A207.9 207.9 0 0 1 129.1 436.66M131.31 438.59L125.15 445.75M129.1 436.66L122.84 443.74M151.55 378.77L144.34 384.88M148.82 389.94A160.65 160.65 0 0 1 140.08 379.64M148.82 389.94L141.88 396.35M145.76 400.42A170.1 170.1 0 0 1 138.14 392.17M145.76 400.42L139.04 407.06M143.22 411.15A179.55 179.55 0 0 1 135 402.83M143.22 411.15L130.21 424.86M132.25 426.77A198.45 198.45 0 0 1 128.19 422.92M132.25 426.77L125.84 433.72M126.92 434.71A207.9 207.9 0 0 1 124.77 432.72M126.92 434.71L120.56 441.7M124.77 432.72L118.31 439.62M128.19 422.92L121.59 429.69M122.64 430.7A207.9 207.9 0 0 1 120.55 428.66M122.64 430.7L116.09 437.51M120.55 428.66L113.9 435.37M135 402.83L128.06 409.24M129.65 410.94A189 189 0 0 1 126.49 407.52M129.65 410.94L122.79 417.45M124.25 418.96A198.45 198.45 0 0 1 121.36 415.92M124.25 418.96L117.46 425.53M118.48 426.58A207.9 207.9 0 0 1 116.44 424.48M118.48 426.58L111.74 433.21M116.44 424.48L109.61 431.01M121.36 415.92L107.51 428.78M126.49 407.52L105.44 426.52M138.14 392.17L109.55 416.89M110.51 418A207.9 207.9 0 0 1 108.59 415.78M110.51 418L103.41 424.23M108.59 415.78L101.4 421.91M140.08 379.64L117.72 397.07M120 399.94A189 189 0 0 1 115.5 394.16M120 399.94L112.66 405.89M113.99 407.51A198.45 198.45 0 0 1 111.34 404.25M113.99 407.51L99.43 419.57M111.34 404.25L103.94 410.13M104.86 411.27A207.9 207.9 0 0 1 103.03 408.98M104.86 411.27L97.49 417.2M103.03 408.98L95.59 414.8M115.5 394.16L100.36 405.49M101.25 406.66A207.9 207.9 0 0 1 99.49 404.31M101.25 406.66L93.72 412.37M99.49 404.31L91.89 409.92M150.97 362.61L96.92 400.75M97.77 401.94A207.9 207.9 0 0 1 96.08 399.55M97.77 401.94L90.09 407.44M96.08 399.55L88.32 404.94M200.9 286.63L144.41 291.55M147.84 311.58A122.85 122.85 0 0 1 144.33 271.22M147.84 311.58L138.69 313.94M146.12 335.12A132.3 132.3 0 0 1 134.95 291.8M146.12 335.12L137.5 338.99M144.24 352.11A141.75 141.75 0 0 1 132.17 325.25M144.24 352.11L111.55 371.1M114.66 376.24A179.55 179.55 0 0 1 108.62 365.86M114.66 376.24L106.65 381.26M108.26 383.79A189 189 0 0 1 105.08 378.71M108.26 383.79L100.33 388.93M101.48 390.69A198.45 198.45 0 0 1 99.2 387.17M101.48 390.69L93.61 395.91M94.43 397.13A207.9 207.9 0 0 1 92.81 394.69M94.43 397.13L86.59 402.41M92.81 394.69L84.9 399.86M99.2 387.17L83.24 397.29M105.08 378.71L88.91 388.49M89.67 389.74A207.9 207.9 0 0 1 88.15 387.24M89.67 389.74L81.62 394.69M88.15 387.24L80.03 392.07M108.62 365.86L100.3 370.33M102.06 373.54A189 189 0 0 1 98.59 367.08M102.06 373.54L93.82 378.17M94.86 379.99A198.45 198.45 0 0 1 92.8 376.33M94.86 379.99L78.48 389.43M92.8 376.33L84.52 380.88M85.23 382.16A207.9 207.9 0 0 1 83.82 379.59M85.23 382.16L76.97 386.76M83.82 379.59L75.5 384.08M98.59 367.08L81.77 375.7M82.45 377A207.9 207.9 0 0 1 81.11 374.4M82.45 377L74.07 381.37M81.11 374.4L72.67 378.65M132.17 325.25L123.19 328.2M127.82 340.45A151.2 151.2 0 0 1 119.64 315.6M127.82 340.45L93.08 355.34M95.1 359.9A189 189 0 0 1 91.17 350.72M95.1 359.9L86.52 363.85M87.7 366.38A198.45 198.45 0 0 1 85.37 361.3M87.7 366.38L79.18 370.45M79.81 371.77A207.9 207.9 0 0 1 78.55 369.13M79.81 371.77L71.31 375.9M78.55 369.13L69.99 373.14M85.37 361.3L76.73 365.13M77.33 366.47A207.9 207.9 0 0 1 76.14 363.79M77.33 366.47L68.71 370.36M76.14 363.79L67.47 367.56M91.17 350.72L82.39 354.21M83.17 356.16A198.45 198.45 0 0 1 81.62 352.26M83.17 356.16L74.43 359.74M74.99 361.09A207.9 207.9 0 0 1 73.88 358.38M74.99 361.09L66.27 364.74M73.88 358.38L65.11 361.91M81.62 352.26L63.99 359.06M119.64 315.6L110.44 317.77M114.16 331.01A160.65 160.65 0 0 1 107.86 304.26M114.16 331.01L105.19 333.95M107.23 339.82A170.1 170.1 0 0 1 103.35 328.01M107.23 339.82L62.91 356.19M103.35 328.01L94.27 330.63M96.28 337.13A179.55 179.55 0 0 1 92.52 324.06M96.28 337.13L78.33 343.05M79.23 345.69A198.45 198.45 0 0 1 77.47 340.38M79.23 345.69L70.29 348.78M70.78 350.16A207.9 207.9 0 0 1 69.82 347.39M70.78 350.16L61.87 353.31M69.82 347.39L60.87 350.42M77.47 340.38L68.46 343.22M68.9 344.61A207.9 207.9 0 0 1 68.03 341.82M68.9 344.61L59.91 347.51M68.03 341.82L58.99 344.59M92.52 324.06L83.34 326.34M84.43 330.52A189 189 0 0 1 82.35 322.12M84.43 330.52L75.31 333.01M75.87 335.03A198.45 198.45 0 0 1 74.77 330.98M75.87 335.03L66.78 337.6M67.19 339.01A207.9 207.9 0 0 1 66.39 336.19M67.19 339.01L58.11 341.65M66.39 336.19L57.28 338.71M74.77 330.98L56.48 335.75M82.35 322.12L73.13 324.19M73.76 326.91A198.45 198.45 0 0 1 72.54 321.45M73.76 326.91L64.56 329.1M64.91 330.52A207.9 207.9 0 0 1 64.23 327.68M64.91 330.52L55.73 332.78M64.23 327.68L55.02 329.8M72.54 321.45L63.29 323.38M63.59 324.82A207.9 207.9 0 0 1 62.99 321.95M63.59 324.82L54.35 326.81M62.99 321.95L53.73 323.81M107.86 304.26L79.81 308.38M80.43 312.33A189 189 0 0 1 79.27 304.42M80.43 312.33L71.11 313.9M71.47 315.96A198.45 198.45 0 0 1 70.77 311.83M71.47 315.96L62.17 317.63M62.43 319.07A207.9 207.9 0 0 1 61.92 316.19M62.43 319.07L53.15 320.81M61.92 316.19L52.6 317.79M70.77 311.83L52.11 314.77M79.27 304.42L69.89 305.6M70.16 307.68A198.45 198.45 0 0 1 69.64 303.52M70.16 307.68L60.8 308.95M61 310.4A207.9 207.9 0 0 1 60.61 307.5M61 310.4L51.65 311.74M60.61 307.5L51.24 308.71M69.64 303.52L50.87 305.67M134.95 291.8L78.44 296.48M78.75 299.79A189 189 0 0 1 78.2 293.16M78.75 299.79L50.54 302.63M78.2 293.16L68.77 293.77M68.97 296.56A198.45 198.45 0 0 1 68.61 290.98M68.97 296.56L59.55 297.3M59.67 298.76A207.9 207.9 0 0 1 59.44 295.84M59.67 298.76L50.25 299.58M59.44 295.84L50.01 296.52M68.61 290.98L59.17 291.46M59.25 292.92A207.9 207.9 0 0 1 59.1 290M59.25 292.92L49.81 293.47M59.1 290L49.66 290.41M144.33 271.22L116.07 268.99M115.67 285.39A151.2 151.2 0 0 1 118.25 252.73M115.67 285.39L49.55 287.35M118.25 252.73L108.96 250.97M106.84 266.02A160.65 160.65 0 0 1 112.5 236.19M106.84 266.02L97.43 265.15M96.81 274.86A170.1 170.1 0 0 1 98.61 255.49M96.81 274.86L87.36 274.53M87.25 280.54A179.55 179.55 0 0 1 87.68 268.53M87.25 280.54L68.35 280.5M68.36 282.59A198.45 198.45 0 0 1 68.37 278.4M68.36 282.59L58.91 282.68M58.93 284.14A207.9 207.9 0 0 1 58.9 281.21M58.93 284.14L49.48 284.29M58.9 281.21L49.45 281.23M68.37 278.4L49.47 278.16M87.68 268.53L78.25 267.88M78.02 271.87A189 189 0 0 1 78.57 263.9M78.02 271.87L68.58 271.41M68.46 274.21A198.45 198.45 0 0 1 68.73 268.62M68.46 274.21L59.02 273.89M58.97 275.35A207.9 207.9 0 0 1 59.07 272.43M58.97 275.35L49.53 275.1M59.07 272.43L49.63 272.04M68.73 268.62L59.3 268.04M59.21 269.5A207.9 207.9 0 0 1 59.39 266.58M59.21 269.5L49.78 268.98M59.39 266.58L49.97 265.92M78.57 263.9L59.74 262.2M59.62 263.66A207.9 207.9 0 0 1 59.88 260.74M59.62 263.66L50.2 262.87M59.88 260.74L50.47 259.82M98.61 255.49L89.27 254.07M88.5 259.71A179.55 179.55 0 0 1 90.2 248.46M88.5 259.71L60.35 256.37M60.18 257.82A207.9 207.9 0 0 1 60.53 254.92M60.18 257.82L50.79 256.78M60.53 254.92L51.15 253.73M90.2 248.46L80.91 246.75M80.23 250.69A189 189 0 0 1 81.67 242.83M80.23 250.69L70.9 249.18M70.47 251.94A198.45 198.45 0 0 1 71.37 246.42M70.47 251.94L61.13 250.56M60.92 252.01A207.9 207.9 0 0 1 61.34 249.11M60.92 252.01L51.56 250.7M61.34 249.11L52.01 247.67M71.37 246.42L62.06 244.78M61.81 246.22A207.9 207.9 0 0 1 62.32 243.34M61.81 246.22L52.49 244.65M62.32 243.34L53.03 241.63M81.67 242.83L63.16 239.03M62.87 240.46A207.9 207.9 0 0 1 63.46 237.59M62.87 240.46L53.6 238.62M63.46 237.59L54.22 235.62M112.5 236.19L94.35 230.92M92.62 237.34A179.55 179.55 0 0 1 96.31 224.58M92.62 237.34L74.28 232.75M73.62 235.47A198.45 198.45 0 0 1 74.98 230.04M73.62 235.47L64.42 233.3M64.09 234.73A207.9 207.9 0 0 1 64.76 231.88M64.09 234.73L54.88 232.63M64.76 231.88L55.58 229.65M74.98 230.04L65.84 227.62M65.47 229.04A207.9 207.9 0 0 1 66.22 226.21M65.47 229.04L56.32 226.68M66.22 226.21L57.11 223.72M96.31 224.58L87.34 221.62M86.13 225.42A189 189 0 0 1 88.63 217.84M86.13 225.42L77.09 222.65M76.49 224.66A198.45 198.45 0 0 1 77.72 220.65M76.49 224.66L67.42 221.98M67.01 223.39A207.9 207.9 0 0 1 67.84 220.58M67.01 223.39L57.93 220.77M67.84 220.58L58.8 217.83M77.72 220.65L59.71 214.91M88.63 217.84L79.72 214.69M79.03 216.67A198.45 198.45 0 0 1 80.43 212.71M79.03 216.67L70.09 213.61M69.62 215A207.9 207.9 0 0 1 70.57 212.22M69.62 215L60.66 212M70.57 212.22L61.65 209.1M80.43 212.71L62.68 206.22M258.68 263.83L262.74 272.37" fill="none" stroke="#1c1c24" stroke-width="1.05" stroke-linecap="square" filter="url(#soft)"/>
<g class="lb" filter="url(#soft)">
<text text-anchor="end" transform="translate(76.69 172.29) rotate(29.74) scale(1.097 1)" dy="1.11">AT1G31560.1 DREB</text>
<text text-anchor="end" transform="translate(78.38 169.38) rotate(30.62) scale(1.097 1)" dy="1.11">AT2G59010.1 DREB</text>
<text text-anchor="end" transform="translate(80.11 166.51) rotate(31.5) scale(1.097 1)" dy="1.11">AT1G50780.1 DREB</text>
<text text-anchor="end" transform="translate(81.89 163.66) rotate(32.38) scale(1.097 1)" dy="1.11">AT1G50780.2 DREB</text>
<text text-anchor="end" transform="translate(83.71 160.83) rotate(33.26) scale(1.097 1)" dy="1.11">AT1G50780.3 DREB</text>
<text text-anchor="end" transform="translate(85.57 158.04) rotate(34.14) scale(1.097 1)" dy="1.11">AT1G37930.1 DREB</text>
<text class="r" text-anchor="end" transform="translate(87.48 155.27) rotate(35.01) scale(1.136 1)" dy="1.18">MsDREB-21</text>
<text class="r" text-anchor="end" transform="translate(89.43 152.53) rotate(35.89) scale(1.136 1)" dy="1.18">MsDREB-25</text>
<text class="r" text-anchor="end" transform="translate(91.42 149.83) rotate(36.77) scale(1.136 1)" dy="1.18">MsDREB-70</text>
<text class="r" text-anchor="end" transform="translate(93.45 147.15) rotate(37.65) scale(1.136 1)" dy="1.18">MsDREB-9</text>
<text class="r" text-anchor="end" transform="translate(95.52 144.51) rotate(38.53) scale(1.136 1)" dy="1.18">MsDREB-33</text>
<text text-anchor="end" transform="translate(97.63 141.9) rotate(39.41) scale(1.097 1)" dy="1.11">AT3G40100.1 DREB</text>
<text text-anchor="end" transform="translate(99.79 139.32) rotate(40.29) scale(1.097 1)" dy="1.11">AT5G13930.1 DREB</text>
<text text-anchor="end" transform="translate(101.98 136.77) rotate(41.17) scale(1.097 1)" dy="1.11">AT5G13930.2 DREB</text>
<text class="r" text-anchor="end" transform="translate(104.21 134.26) rotate(42.05) scale(1.136 1)" dy="1.18">MsDREB-22</text>
<text class="r" text-anchor="end" transform="translate(106.48 131.78) rotate(42.93) scale(1.136 1)" dy="1.18">MsDREB-3</text>
<text class="r" text-anchor="end" transform="translate(108.79 129.34) rotate(43.81) scale(1.136 1)" dy="1.18">MsDREB-31</text>
<text class="r" text-anchor="end" transform="translate(111.13 126.93) rotate(44.68) scale(1.136 1)" dy="1.18">MsDREB-13</text>
<text class="r" text-anchor="end" transform="translate(113.51 124.56) rotate(45.56) scale(1.136 1)" dy="1.18">MsDREB-47</text>
<text class="r" text-anchor="end" transform="translate(115.93 122.23) rotate(46.44) scale(1.136 1)" dy="1.18">MsDREB-61</text>
<text text-anchor="end" transform="translate(118.38 119.93) rotate(47.32) scale(1.097 1)" dy="1.11">AT5G77800.1 DREB</text>
<text text-anchor="end" transform="translate(120.87 117.67) rotate(48.2) scale(1.097 1)" dy="1.11">AT5G77800.2 DREB</text>
<text text-anchor="end" transform="translate(123.39 115.45) rotate(49.08) scale(1.097 1)" dy="1.11">AT3G54420.1 DREB</text>
<text text-anchor="end" transform="translate(125.94 113.27) rotate(49.96) scale(1.097 1)" dy="1.11">AT3G54420.2 DREB</text>
<text text-anchor="end" transform="translate(128.53 111.13) rotate(50.84) scale(1.097 1)" dy="1.11">AT2G60120.1 DREB</text>
<text text-anchor="end" transform="translate(131.15 109.03) rotate(51.72) scale(1.097 1)" dy="1.11">AT3G40840.1 DREB</text>
<text class="r" text-anchor="end" transform="translate(133.81 106.97) rotate(52.6) scale(1.136 1)" dy="1.18">MsDREB-65</text>
<text class="r" text-anchor="end" transform="translate(136.49 104.95) rotate(53.48) scale(1.136 1)" dy="1.18">MsDREB-7</text>
<text class="r" text-anchor="end" transform="translate(139.21 102.97) rotate(54.36) scale(1.136 1)" dy="1.18">MsDREB-4</text>
<text class="r" text-anchor="end" transform="translate(141.95 101.03) rotate(55.23) scale(1.136 1)" dy="1.18">MsDREB-44</text>
<text class="r" text-anchor="end" transform="translate(144.73 99.14) rotate(56.11) scale(1.136 1)" dy="1.18">MsDREB-49</text>
<text class="r" text-anchor="end" transform="translate(147.53 97.29) rotate(56.99) scale(1.136 1)" dy="1.18">MsDREB-20</text>
<text class="r" text-anchor="end" transform="translate(150.36 95.48) rotate(57.87) scale(1.136 1)" dy="1.18">MsDREB-15</text>
<text class="r" text-anchor="end" transform="translate(153.22 93.71) rotate(58.75) scale(1.136 1)" dy="1.18">MsDREB-50</text>
<text class="r" text-anchor="end" transform="translate(156.1 91.99) rotate(59.63) scale(1.136 1)" dy="1.18">MsDREB-51</text>
<text class="r" text-anchor="end" transform="translate(159.01 90.32) rotate(60.51) scale(1.136 1)" dy="1.18">MsDREB-78</text>
<text text-anchor="end" transform="translate(161.95 88.69) rotate(61.39) scale(1.097 1)" dy="1.11">AT2G23760.1 DREB</text>
<text text-anchor="end" transform="translate(164.91 87.1) rotate(62.27) scale(1.097 1)" dy="1.11">AT5G69910.1 DREB</text>
<text text-anchor="end" transform="translate(167.9 85.56) rotate(63.15) scale(1.097 1)" dy="1.11">AT5G69910.2 DREB</text>
<text text-anchor="end" transform="translate(170.91 84.07) rotate(64.03) scale(1.097 1)" dy="1.11">AT5G69910.3 DREB</text>
<text text-anchor="end" transform="translate(173.94 82.62) rotate(64.91) scale(1.097 1)" dy="1.11">AT5G63820.1 DREB</text>
<text text-anchor="end" transform="translate(176.99 81.22) rotate(65.78) scale(1.097 1)" dy="1.11">AT5G63820.2 DREB</text>
<text class="r" text-anchor="end" transform="translate(180.07 79.86) rotate(66.66) scale(1.136 1)" dy="1.18">MsDREB-11</text>
<text class="r" text-anchor="end" transform="translate(183.16 78.55) rotate(67.54) scale(1.136 1)" dy="1.18">MsDREB-27</text>
<text class="r" text-anchor="end" transform="translate(186.28 77.3) rotate(68.42) scale(1.136 1)" dy="1.18">MsDREB-80</text>
<text text-anchor="end" transform="translate(189.41 76.08) rotate(69.3) scale(1.097 1)" dy="1.11">AT4G16000.1 DREB</text>
<text text-anchor="end" transform="translate(192.56 74.92) rotate(70.18) scale(1.097 1)" dy="1.11">AT4G16000.2 DREB</text>
<text text-anchor="end" transform="translate(195.73 73.81) rotate(71.06) scale(1.097 1)" dy="1.11">AT3G68360.1 DREB</text>
<text text-anchor="end" transform="translate(198.92 72.74) rotate(71.94) scale(1.097 1)" dy="1.11">AT3G68360.2 DREB</text>
<text text-anchor="end" transform="translate(202.12 71.72) rotate(72.82) scale(1.097 1)" dy="1.11">AT2G59910.1 DREB</text>
<text text-anchor="end" transform="translate(205.33 70.75) rotate(73.7) scale(1.097 1)" dy="1.11">AT2G22400.1 DREB</text>
<text class="r" text-anchor="end" transform="translate(208.57 69.84) rotate(74.58) scale(1.136 1)" dy="1.18">MsDREB-41</text>
<text class="r" text-anchor="end" transform="translate(211.81 68.97) rotate(75.45) scale(1.136 1)" dy="1.18">MsDREB-8</text>
<text class="r" text-anchor="end" transform="translate(215.07 68.15) rotate(76.33) scale(1.136 1)" dy="1.18">MsDREB-14</text>
<text class="r" text-anchor="end" transform="translate(218.34 67.38) rotate(77.21) scale(1.136 1)" dy="1.18">MsDREB-67</text>
<text text-anchor="end" transform="translate(221.62 66.66) rotate(78.09) scale(1.097 1)" dy="1.11">AT2G55130.1 DREB</text>
<text text-anchor="end" transform="translate(224.91 65.99) rotate(78.97) scale(1.097 1)" dy="1.11">AT4G21520.1 DREB</text>
<text class="r" text-anchor="end" transform="translate(228.22 65.38) rotate(79.85) scale(1.136 1)" dy="1.18">MsDREB-1</text>
<text class="r" text-anchor="end" transform="translate(231.53 64.81) rotate(80.73) scale(1.136 1)" dy="1.18">MsDREB-16</text>
<text class="r" text-anchor="end" transform="translate(234.85 64.29) rotate(81.61) scale(1.136 1)" dy="1.18">MsDREB-74</text>
<text class="r" text-anchor="end" transform="translate(238.17 63.83) rotate(82.49) scale(1.136 1)" dy="1.18">MsDREB-71</text>
<text class="r" text-anchor="end" transform="translate(241.51 63.42) rotate(83.37) scale(1.136 1)" dy="1.18">MsDREB-55</text>
<text class="r" text-anchor="end" transform="translate(244.85 63.05) rotate(84.25) scale(1.136 1)" dy="1.18">MsDREB-32</text>
<text class="r" text-anchor="end" transform="translate(248.19 62.74) rotate(85.13) scale(1.136 1)" dy="1.18">MsDREB-53</text>
<text class="r" text-anchor="end" transform="translate(251.54 62.48) rotate(86) scale(1.136 1)" dy="1.18">MsDREB-86</text>
<text class="r" text-anchor="end" transform="translate(254.9 62.27) rotate(86.88) scale(1.136 1)" dy="1.18">MsDREB-37</text>
<text text-anchor="end" transform="translate(258.25 62.12) rotate(87.76) scale(1.097 1)" dy="1.11">AT5G15110.1 DREB</text>
<text text-anchor="end" transform="translate(261.61 62.01) rotate(88.64) scale(1.097 1)" dy="1.11">AT5G15110.2 DREB</text>
<text text-anchor="end" transform="translate(264.97 61.96) rotate(89.52) scale(1.097 1)" dy="1.11">AT5G15110.3 DREB</text>
<text class="r" transform="translate(268.33 61.96) rotate(-89.6) scale(1.136 1)" dy="1.18">MsDREB-43</text>
<text class="r" transform="translate(271.69 62) rotate(-88.72) scale(1.136 1)" dy="1.18">MsDREB-42</text>
<text class="r" transform="translate(275.05 62.11) rotate(-87.84) scale(1.136 1)" dy="1.18">MsDREB-79</text>
<text class="r" transform="translate(278.4 62.26) rotate(-86.96) scale(1.136 1)" dy="1.18">MsDREB-29</text>
<text class="r" transform="translate(281.76 62.46) rotate(-86.08) scale(1.136 1)" dy="1.18">MsDREB-73</text>
<text class="r" transform="translate(285.1 62.72) rotate(-85.2) scale(1.136 1)" dy="1.18">MsDREB-64</text>
<text class="r" transform="translate(288.45 63.02) rotate(-84.33) scale(1.136 1)" dy="1.18">MsDREB-24</text>
<text class="r" transform="translate(291.79 63.38) rotate(-83.45) scale(1.136 1)" dy="1.18">MsDREB-60</text>
<text transform="translate(295.13 63.79) rotate(-82.57) scale(1.097 1)" dy="1.11">AT2G34520.1 DREB</text>
<text transform="translate(298.45 64.25) rotate(-81.69) scale(1.097 1)" dy="1.11">AT4G29450.1 DREB</text>
<text transform="translate(301.77 64.76) rotate(-80.81) scale(1.097 1)" dy="1.11">AT4G29450.2 DREB</text>
<text transform="translate(305.09 65.32) rotate(-79.93) scale(1.097 1)" dy="1.11">AT2G13670.1 DREB</text>
<text class="r" transform="translate(308.39 65.94) rotate(-79.05) scale(1.136 1)" dy="1.18">MsDREB-59</text>
<text class="r" transform="translate(311.68 66.6) rotate(-78.17) scale(1.136 1)" dy="1.18">MsDREB-66</text>
<text class="r" transform="translate(314.96 67.31) rotate(-77.29) scale(1.136 1)" dy="1.18">MsDREB-12</text>
<text class="r" transform="translate(318.24 68.08) rotate(-76.41) scale(1.136 1)" dy="1.18">MsDREB-34</text>
<text class="r" transform="translate(321.5 68.89) rotate(-75.53) scale(1.136 1)" dy="1.18">MsDREB-90</text>
<text class="r" transform="translate(324.74 69.76) rotate(-74.65) scale(1.136 1)" dy="1.18">MsDREB-19</text>
<text class="r" transform="translate(327.97 70.67) rotate(-73.78) scale(1.136 1)" dy="1.18">MsDREB-93</text>
<text class="r" transform="translate(331.19 71.63) rotate(-72.9) scale(1.136 1)" dy="1.18">MsDREB-46</text>
<text transform="translate(334.4 72.65) rotate(-72.02) scale(1.097 1)" dy="1.11">AT2G79520.1 DREB</text>
<text transform="translate(337.58 73.71) rotate(-71.14) scale(1.097 1)" dy="1.11">AT2G24860.1 DREB</text>
<text transform="translate(340.75 74.82) rotate(-70.26) scale(1.097 1)" dy="1.11">AT5G59040.1 DREB</text>
<text transform="translate(343.91 75.98) rotate(-69.38) scale(1.097 1)" dy="1.11">AT1G23620.1 DREB</text>
<text transform="translate(347.04 77.18) rotate(-68.5) scale(1.097 1)" dy="1.11">AT2G34090.1 DREB</text>
<text transform="translate(350.16 78.44) rotate(-67.62) scale(1.097 1)" dy="1.11">AT2G34090.2 DREB</text>
<text class="r" transform="translate(353.26 79.74) rotate(-66.74) scale(1.136 1)" dy="1.18">MsDREB-82</text>
<text class="r" transform="translate(356.33 81.09) rotate(-65.86) scale(1.136 1)" dy="1.18">MsDREB-30</text>
<text class="r" transform="translate(359.39 82.49) rotate(-64.98) scale(1.136 1)" dy="1.18">MsDREB-87</text>
<text class="r" transform="translate(362.42 83.93) rotate(-64.11) scale(1.136 1)" dy="1.18">MsDREB-18</text>
<text class="r" transform="translate(365.43 85.42) rotate(-63.23) scale(1.136 1)" dy="1.18">MsDREB-28</text>
<text class="r" transform="translate(368.42 86.96) rotate(-62.35) scale(1.136 1)" dy="1.18">MsDREB-62</text>
<text class="r" transform="translate(371.38 88.54) rotate(-61.47) scale(1.136 1)" dy="1.18">MsDREB-88</text>
<text class="r" transform="translate(374.32 90.17) rotate(-60.59) scale(1.136 1)" dy="1.18">MsDREB-2</text>
<text transform="translate(377.24 91.84) rotate(-59.71) scale(1.097 1)" dy="1.11">AT3G25440.1 DREB</text>
<text transform="translate(380.12 93.56) rotate(-58.83) scale(1.097 1)" dy="1.11">AT3G25440.2 DREB</text>
<text transform="translate(382.98 95.32) rotate(-57.95) scale(1.097 1)" dy="1.11">AT3G25440.3 DREB</text>
<text transform="translate(385.82 97.12) rotate(-57.07) scale(1.097 1)" dy="1.11">AT5G58630.1 DREB</text>
<text transform="translate(388.62 98.97) rotate(-56.19) scale(1.097 1)" dy="1.11">AT4G39060.1 DREB</text>
<text class="r" transform="translate(391.4 100.86) rotate(-55.31) scale(1.136 1)" dy="1.18">MsDREB-52</text>
<text class="r" transform="translate(394.15 102.79) rotate(-54.43) scale(1.136 1)" dy="1.18">MsDREB-68</text>
<text class="r" transform="translate(396.87 104.77) rotate(-53.56) scale(1.136 1)" dy="1.18">MsDREB-97</text>
<text class="r" transform="translate(399.55 106.79) rotate(-52.68) scale(1.136 1)" dy="1.18">MsDREB-57</text>
<text transform="translate(402.21 108.84) rotate(-51.8) scale(1.097 1)" dy="1.11">AT4G77370.1 DREB</text>
<text transform="translate(404.83 110.94) rotate(-50.92) scale(1.097 1)" dy="1.11">AT4G77370.2 DREB</text>
<text transform="translate(407.42 113.08) rotate(-50.04) scale(1.097 1)" dy="1.11">AT3G29420.1 DREB</text>
<text transform="translate(409.98 115.26) rotate(-49.16) scale(1.097 1)" dy="1.11">AT3G29420.2 DREB</text>
<text transform="translate(412.51 117.47) rotate(-48.28) scale(1.097 1)" dy="1.11">AT3G29420.3 DREB</text>
<text class="r" transform="translate(415 119.73) rotate(-47.4) scale(1.136 1)" dy="1.18">MsDREB-54</text>
<text class="r" transform="translate(417.45 122.02) rotate(-46.52) scale(1.136 1)" dy="1.18">MsDREB-5</text>
<text class="r" transform="translate(419.87 124.35) rotate(-45.64) scale(1.136 1)" dy="1.18">MsDREB-83</text>
<text class="r" transform="translate(422.26 126.72) rotate(-44.76) scale(1.136 1)" dy="1.18">MsDREB-6</text>
<text class="r" transform="translate(424.6 129.12) rotate(-43.88) scale(1.136 1)" dy="1.18">MsDREB-26</text>
<text class="r" transform="translate(426.91 131.56) rotate(-43.01) scale(1.136 1)" dy="1.18">MsDREB-98</text>
<text class="r" transform="translate(429.19 134.03) rotate(-42.13) scale(1.136 1)" dy="1.18">MsDREB-104</text>
<text transform="translate(431.42 136.54) rotate(-41.25) scale(1.097 1)" dy="1.11">AT4G61880.1 DREB</text>
<text transform="translate(433.62 139.09) rotate(-40.37) scale(1.097 1)" dy="1.11">AT5G34160.1 DREB</text>
<text class="r" transform="translate(435.77 141.66) rotate(-39.49) scale(1.136 1)" dy="1.18">MsDREB-84</text>
<text class="r" transform="translate(437.89 144.27) rotate(-38.61) scale(1.136 1)" dy="1.18">MsDREB-38</text>
<text class="r" transform="translate(439.97 146.91) rotate(-37.73) scale(1.136 1)" dy="1.18">MsDREB-40</text>
<text class="r" transform="translate(442 149.59) rotate(-36.85) scale(1.136 1)" dy="1.18">MsDREB-107</text>
<text class="r" transform="translate(444 152.29) rotate(-35.97) scale(1.136 1)" dy="1.18">MsDREB-92</text>
<text class="r" transform="translate(445.95 155.02) rotate(-35.09) scale(1.136 1)" dy="1.18">MsDREB-58</text>
<text class="r" transform="translate(447.86 157.79) rotate(-34.21) scale(1.136 1)" dy="1.18">MsDREB-76</text>
<text transform="translate(449.73 160.58) rotate(-33.34) scale(1.097 1)" dy="1.11">AT1G48060.1 DREB</text>
<text transform="translate(451.55 163.4) rotate(-32.46) scale(1.097 1)" dy="1.11">AT1G48060.2 DREB</text>
<text transform="translate(453.33 166.25) rotate(-31.58) scale(1.097 1)" dy="1.11">AT1G48060.3 DREB</text>
<text transform="translate(455.07 169.12) rotate(-30.7) scale(1.097 1)" dy="1.11">AT1G60450.1 DREB</text>
<text transform="translate(456.76 172.03) rotate(-29.82) scale(1.097 1)" dy="1.11">AT1G60450.2 DREB</text>
<text class="r" transform="translate(458.41 174.95) rotate(-28.94) scale(1.136 1)" dy="1.18">MsDREB-72</text>
<text class="r" transform="translate(460.03 177.94) rotate(-28.05) scale(1.136 1)" dy="1.18">MsSoloist-1</text>
<text transform="translate(461.62 180.99) rotate(-27.15) scale(1.097 1)" dy="1.11">AT5G13480.1 Soloist</text>
<text transform="translate(463.17 184.06) rotate(-26.25) scale(1.097 1)" dy="1.11">AT5G13480.2 Soloist</text>
<text transform="translate(464.67 187.16) rotate(-25.35) scale(1.097 1)" dy="1.11">AT5G13480.3 Soloist</text>
<text transform="translate(466.12 190.28) rotate(-24.45) scale(1.097 1)" dy="1.11">AT5G13480.4 Soloist</text>
<text transform="translate(467.5 193.39) rotate(-23.56) scale(1.097 1)" dy="1.11">AT4G12730.1 AP2</text>
<text transform="translate(468.82 196.49) rotate(-22.68) scale(1.097 1)" dy="1.11">AT4G12730.2 AP2</text>
<text transform="translate(470.1 199.61) rotate(-21.8) scale(1.097 1)" dy="1.11">AT4G12730.3 AP2</text>
<text class="r" transform="translate(471.33 202.74) rotate(-20.91) scale(1.136 1)" dy="1.18">MsAP2-37</text>
<text transform="translate(472.5 205.9) rotate(-20.03) scale(1.097 1)" dy="1.11">AT5G42090.1 AP2</text>
<text transform="translate(473.63 209.08) rotate(-19.15) scale(1.097 1)" dy="1.11">AT5G42090.2 AP2</text>
<text transform="translate(474.71 212.27) rotate(-18.27) scale(1.097 1)" dy="1.11">AT5G42090.3 AP2</text>
<text transform="translate(475.75 215.47) rotate(-17.39) scale(1.097 1)" dy="1.11">AT3G39640.1 AP2</text>
<text transform="translate(476.73 218.7) rotate(-16.5) scale(1.097 1)" dy="1.11">AT1G60180.1 AP2</text>
<text class="r" transform="translate(477.66 221.94) rotate(-15.62) scale(1.136 1)" dy="1.18">MsAP2-55</text>
<text transform="translate(478.54 225.19) rotate(-14.74) scale(1.097 1)" dy="1.11">AT1G10610.1 AP2</text>
<text transform="translate(479.38 228.45) rotate(-13.86) scale(1.097 1)" dy="1.11">AT1G10610.2 AP2</text>
<text transform="translate(480.16 231.73) rotate(-12.98) scale(1.097 1)" dy="1.11">AT1G10610.3 AP2</text>
<text class="r" transform="translate(480.89 235.02) rotate(-12.1) scale(1.136 1)" dy="1.18">MsAP2-35</text>
<text class="r" transform="translate(481.57 238.32) rotate(-11.21) scale(1.136 1)" dy="1.18">MsAP2-17</text>
<text transform="translate(482.2 241.63) rotate(-10.33) scale(1.097 1)" dy="1.11">AT2G19050.1 AP2</text>
<text transform="translate(482.78 244.95) rotate(-9.45) scale(1.097 1)" dy="1.11">AT2G19050.2 AP2</text>
<text transform="translate(483.31 248.28) rotate(-8.57) scale(1.097 1)" dy="1.11">AT2G19050.3 AP2</text>
<text class="r" transform="translate(483.78 251.62) rotate(-7.69) scale(1.136 1)" dy="1.18">MsAP2-30</text>
<text class="r" transform="translate(484.21 254.96) rotate(-6.8) scale(1.136 1)" dy="1.18">MsAP2-28</text>
<text class="r" transform="translate(484.58 258.31) rotate(-5.92) scale(1.136 1)" dy="1.18">MsAP2-65</text>
<text class="r" transform="translate(484.9 261.66) rotate(-5.04) scale(1.136 1)" dy="1.18">MsAP2-41</text>
<text transform="translate(485.17 265.02) rotate(-4.16) scale(1.097 1)" dy="1.11">AT2G27890.1 AP2</text>
<text transform="translate(485.39 268.38) rotate(-3.28) scale(1.097 1)" dy="1.11">AT2G27890.2 AP2</text>
<text transform="translate(485.56 271.75) rotate(-2.4) scale(1.097 1)" dy="1.11">AT2G27890.3 AP2</text>
<text class="r" transform="translate(485.67 275.12) rotate(-1.51) scale(1.136 1)" dy="1.18">MsAP2-29</text>
<text class="r" transform="translate(485.74 278.49) rotate(-0.63) scale(1.136 1)" dy="1.18">MsAP2-18</text>
<text transform="translate(485.75 281.86) rotate(0.25) scale(1.097 1)" dy="1.11">AT3G78130.1 AP2</text>
<text transform="translate(485.71 285.22) rotate(1.13) scale(1.097 1)" dy="1.11">AT3G78130.2 AP2</text>
<text transform="translate(485.61 288.59) rotate(2.01) scale(1.097 1)" dy="1.11">AT1G68330.1 AP2</text>
<text class="r" transform="translate(485.47 291.96) rotate(2.9) scale(1.136 1)" dy="1.18">MsAP2-61</text>
<text class="r" transform="translate(485.27 295.32) rotate(3.78) scale(1.136 1)" dy="1.18">MsAP2-4</text>
<text class="r" transform="translate(485.03 298.68) rotate(4.66) scale(1.136 1)" dy="1.18">MsAP2-12</text>
<text class="r" transform="translate(484.73 302.04) rotate(5.54) scale(1.136 1)" dy="1.18">MsAP2-1</text>
<text class="r" transform="translate(484.38 305.39) rotate(6.42) scale(1.136 1)" dy="1.18">MsAP2-7</text>
<text transform="translate(483.97 308.74) rotate(7.3) scale(1.097 1)" dy="1.11">AT2G53630.1 AP2</text>
<text transform="translate(483.52 312.08) rotate(8.19) scale(1.097 1)" dy="1.11">AT2G53630.2 AP2</text>
<text transform="translate(483.01 315.41) rotate(9.07) scale(1.097 1)" dy="1.11">AT2G50360.1 AP2</text>
<text transform="translate(482.46 318.73) rotate(9.95) scale(1.097 1)" dy="1.11">AT3G63260.1 AP2</text>
<text class="r" transform="translate(481.85 322.05) rotate(10.83) scale(1.136 1)" dy="1.18">MsAP2-52</text>
<text transform="translate(481.19 325.35) rotate(11.71) scale(1.097 1)" dy="1.11">AT1G67760.1 AP2</text>
<text transform="translate(480.48 328.65) rotate(12.6) scale(1.097 1)" dy="1.11">AT1G67760.2 AP2</text>
<text class="r" transform="translate(479.72 331.93) rotate(13.48) scale(1.136 1)" dy="1.18">MsAP2-33</text>
<text class="r" transform="translate(478.91 335.2) rotate(14.36) scale(1.136 1)" dy="1.18">MsAP2-74</text>
<text class="r" transform="translate(478.05 338.46) rotate(15.24) scale(1.136 1)" dy="1.18">MsAP2-27</text>
<text transform="translate(477.14 341.7) rotate(16.12) scale(1.097 1)" dy="1.11">AT4G57420.1 AP2</text>
<text transform="translate(476.18 344.93) rotate(17) scale(1.097 1)" dy="1.11">AT4G57420.2 AP2</text>
<text transform="translate(475.17 348.15) rotate(17.89) scale(1.097 1)" dy="1.11">AT5G39840.1 AP2</text>
<text class="r" transform="translate(474.11 351.34) rotate(18.77) scale(1.136 1)" dy="1.18">MsAP2-40</text>
<text class="r" transform="translate(473 354.53) rotate(19.65) scale(1.136 1)" dy="1.18">MsAP2-19</text>
<text transform="translate(471.84 357.69) rotate(20.53) scale(1.097 1)" dy="1.11">AT3G42940.1 AP2</text>
<text transform="translate(470.64 360.84) rotate(21.41) scale(1.097 1)" dy="1.11">AT4G59690.1 AP2</text>
<text class="r" transform="translate(469.38 363.97) rotate(22.3) scale(1.136 1)" dy="1.18">MsAP2-6</text>
<text class="r" transform="translate(468.08 367.07) rotate(23.18) scale(1.136 1)" dy="1.18">MsAP2-26</text>
<text class="r" transform="translate(466.73 370.16) rotate(24.06) scale(1.136 1)" dy="1.18">MsAP2-14</text>
<text transform="translate(465.33 373.23) rotate(24.94) scale(1.097 1)" dy="1.11">AT5G13010.1 RAV</text>
<text transform="translate(463.89 376.27) rotate(25.82) scale(1.097 1)" dy="1.11">AT5G13010.2 RAV</text>
<text transform="translate(462.4 379.29) rotate(26.7) scale(1.097 1)" dy="1.11">AT5G79700.1 RAV</text>
<text transform="translate(460.86 382.29) rotate(27.59) scale(1.097 1)" dy="1.11">AT5G73370.1 RAV</text>
<text class="r" transform="translate(459.27 385.27) rotate(28.47) scale(1.136 1)" dy="1.18">MsRAV-11</text>
<text class="r" transform="translate(457.65 388.22) rotate(29.35) scale(1.136 1)" dy="1.18">MsRAV-41</text>
<text class="r" transform="translate(455.97 391.14) rotate(30.23) scale(1.136 1)" dy="1.18">MsRAV-68</text>
<text class="r" transform="translate(454.25 394.04) rotate(31.11) scale(1.136 1)" dy="1.18">MsRAV-65</text>
<text transform="translate(452.49 396.91) rotate(32) scale(1.097 1)" dy="1.11">AT1G48590.1 RAV</text>
<text transform="translate(450.68 399.76) rotate(32.88) scale(1.097 1)" dy="1.11">AT1G48590.2 RAV</text>
<text transform="translate(448.83 402.57) rotate(33.76) scale(1.097 1)" dy="1.11">AT2G20490.1 RAV</text>
<text class="r" transform="translate(447.02 405.24) rotate(34.6) scale(1.136 1)" dy="1.18">MsERF-24</text>
<text class="r" transform="translate(445.25 407.77) rotate(35.41) scale(1.136 1)" dy="1.18">MsERF-40</text>
<text class="r" transform="translate(443.44 410.27) rotate(36.22) scale(1.136 1)" dy="1.18">MsERF-33</text>
<text class="r" transform="translate(441.6 412.75) rotate(37.03) scale(1.136 1)" dy="1.18">MsERF-63</text>
<text class="r" transform="translate(439.73 415.19) rotate(37.83) scale(1.136 1)" dy="1.18">MsERF-16</text>
<text class="r" transform="translate(437.82 417.62) rotate(38.64) scale(1.136 1)" dy="1.18">MsERF-32</text>
<text class="r" transform="translate(435.88 420.01) rotate(39.45) scale(1.136 1)" dy="1.18">MsERF-7</text>
<text class="r" transform="translate(433.9 422.38) rotate(40.25) scale(1.136 1)" dy="1.18">MsERF-42</text>
<text transform="translate(431.89 424.72) rotate(41.06) scale(1.097 1)" dy="1.11">AT5G59130.1 ERF</text>
<text transform="translate(429.85 427.03) rotate(41.87) scale(1.097 1)" dy="1.11">AT5G59130.2 ERF</text>
<text transform="translate(427.77 429.32) rotate(42.68) scale(1.097 1)" dy="1.11">AT5G59130.3 ERF</text>
<text transform="translate(425.66 431.57) rotate(43.48) scale(1.097 1)" dy="1.11">AT3G39560.1 ERF</text>
<text transform="translate(423.52 433.79) rotate(44.29) scale(1.097 1)" dy="1.11">AT3G39560.2 ERF</text>
<text transform="translate(421.36 435.99) rotate(45.1) scale(1.097 1)" dy="1.11">AT3G31350.1 ERF</text>
<text class="r" transform="translate(419.15 438.15) rotate(45.91) scale(1.136 1)" dy="1.18">MsERF-41</text>
<text class="r" transform="translate(416.92 440.28) rotate(46.71) scale(1.136 1)" dy="1.18">MsERF-57</text>
<text class="r" transform="translate(414.66 442.38) rotate(47.52) scale(1.136 1)" dy="1.18">MsERF-21</text>
<text class="r" transform="translate(412.37 444.45) rotate(48.33) scale(1.136 1)" dy="1.18">MsERF-20</text>
<text class="r" transform="translate(410.06 446.48) rotate(49.13) scale(1.136 1)" dy="1.18">MsERF-35</text>
<text class="r" transform="translate(407.71 448.48) rotate(49.94) scale(1.136 1)" dy="1.18">MsERF-64</text>
<text class="r" transform="translate(405.33 450.45) rotate(50.75) scale(1.136 1)" dy="1.18">MsERF-15</text>
<text class="r" transform="translate(402.93 452.39) rotate(51.56) scale(1.136 1)" dy="1.18">MsERF-39</text>
<text transform="translate(400.5 454.29) rotate(52.36) scale(1.097 1)" dy="1.11">AT3G71660.1 ERF</text>
<text transform="translate(398.04 456.15) rotate(53.17) scale(1.097 1)" dy="1.11">AT2G71180.1 ERF</text>
<text transform="translate(395.56 457.99) rotate(53.98) scale(1.097 1)" dy="1.11">AT2G47830.1 ERF</text>
<text transform="translate(393.05 459.78) rotate(54.79) scale(1.097 1)" dy="1.11">AT2G47830.2 ERF</text>
<text transform="translate(390.52 461.54) rotate(55.59) scale(1.097 1)" dy="1.11">AT2G47830.3 ERF</text>
<text transform="translate(387.96 463.27) rotate(56.4) scale(1.097 1)" dy="1.11">AT5G53860.1 ERF</text>
<text class="r" transform="translate(385.38 464.96) rotate(57.21) scale(1.136 1)" dy="1.18">MsERF-65</text>
<text class="r" transform="translate(382.78 466.61) rotate(58.01) scale(1.136 1)" dy="1.18">MsERF-67</text>
<text class="r" transform="translate(380.15 468.23) rotate(58.82) scale(1.136 1)" dy="1.18">MsERF-78</text>
<text transform="translate(377.5 469.8) rotate(59.63) scale(1.097 1)" dy="1.11">AT1G30050.1 ERF</text>
<text transform="translate(374.83 471.35) rotate(60.44) scale(1.097 1)" dy="1.11">AT2G65540.1 ERF</text>
<text transform="translate(372.13 472.85) rotate(61.24) scale(1.097 1)" dy="1.11">AT2G65540.2 ERF</text>
<text transform="translate(369.42 474.31) rotate(62.05) scale(1.097 1)" dy="1.11">AT2G65540.3 ERF</text>
<text transform="translate(366.68 475.74) rotate(62.86) scale(1.097 1)" dy="1.11">AT4G70920.1 ERF</text>
<text transform="translate(363.93 477.13) rotate(63.67) scale(1.097 1)" dy="1.11">AT4G70920.2 ERF</text>
<text class="r" transform="translate(361.15 478.48) rotate(64.47) scale(1.136 1)" dy="1.18">MsERF-17</text>
<text class="r" transform="translate(358.36 479.79) rotate(65.28) scale(1.136 1)" dy="1.18">MsERF-37</text>
<text class="r" transform="translate(355.55 481.06) rotate(66.09) scale(1.136 1)" dy="1.18">MsERF-36</text>
<text class="r" transform="translate(352.72 482.29) rotate(66.89) scale(1.136 1)" dy="1.18">MsERF-55</text>
<text transform="translate(349.87 483.48) rotate(67.7) scale(1.097 1)" dy="1.11">AT5G63980.1 ERF</text>
<text transform="translate(347.01 484.63) rotate(68.51) scale(1.097 1)" dy="1.11">AT5G63980.2 ERF</text>
<text class="r" transform="translate(344.13 485.74) rotate(69.32) scale(1.136 1)" dy="1.18">MsERF-59</text>
<text class="r" transform="translate(341.24 486.81) rotate(70.12) scale(1.136 1)" dy="1.18">MsERF-54</text>
<text class="r" transform="translate(338.33 487.84) rotate(70.93) scale(1.136 1)" dy="1.18">MsERF-3</text>
<text class="r" transform="translate(335.41 488.82) rotate(71.74) scale(1.136 1)" dy="1.18">MsERF-19</text>
<text class="r" transform="translate(332.47 489.77) rotate(72.55) scale(1.136 1)" dy="1.18">MsERF-30</text>
<text transform="translate(329.52 490.67) rotate(73.35) scale(1.097 1)" dy="1.11">AT3G59530.1 ERF</text>
<text transform="translate(326.56 491.54) rotate(74.16) scale(1.097 1)" dy="1.11">AT3G59530.2 ERF</text>
<text transform="translate(323.59 492.36) rotate(74.97) scale(1.097 1)" dy="1.11">AT4G33490.1 ERF</text>
<text transform="translate(320.6 493.14) rotate(75.78) scale(1.097 1)" dy="1.11">AT2G33830.1 ERF</text>
<text transform="translate(317.61 493.87) rotate(76.58) scale(1.097 1)" dy="1.11">AT2G33830.2 ERF</text>
<text class="r" transform="translate(314.6 494.57) rotate(77.39) scale(1.136 1)" dy="1.18">MsERF-83</text>
<text class="r" transform="translate(311.59 495.22) rotate(78.2) scale(1.136 1)" dy="1.18">MsERF-2</text>
<text class="r" transform="translate(308.56 495.83) rotate(79) scale(1.136 1)" dy="1.18">MsERF-72</text>
<text class="r" transform="translate(305.53 496.4) rotate(79.81) scale(1.136 1)" dy="1.18">MsERF-48</text>
<text class="r" transform="translate(302.49 496.92) rotate(80.62) scale(1.136 1)" dy="1.18">MsERF-50</text>
<text class="r" transform="translate(299.44 497.4) rotate(81.43) scale(1.136 1)" dy="1.18">MsERF-77</text>
<text class="r" transform="translate(296.39 497.84) rotate(82.23) scale(1.136 1)" dy="1.18">MsERF-34</text>
<text class="r" transform="translate(293.33 498.24) rotate(83.04) scale(1.136 1)" dy="1.18">MsERF-12</text>
<text transform="translate(290.26 498.59) rotate(83.85) scale(1.097 1)" dy="1.11">AT1G56350.1 ERF</text>
<text transform="translate(287.2 498.9) rotate(84.66) scale(1.097 1)" dy="1.11">AT1G56350.2 ERF</text>
<text transform="translate(284.12 499.16) rotate(85.46) scale(1.097 1)" dy="1.11">AT5G40500.1 ERF</text>
<text class="r" transform="translate(281.05 499.39) rotate(86.27) scale(1.136 1)" dy="1.18">MsERF-70</text>
<text class="r" transform="translate(277.97 499.57) rotate(87.08) scale(1.136 1)" dy="1.18">MsERF-23</text>
<text class="r" transform="translate(274.88 499.7) rotate(87.88) scale(1.136 1)" dy="1.18">MsERF-75</text>
<text transform="translate(271.8 499.79) rotate(88.69) scale(1.097 1)" dy="1.11">AT1G30120.1 ERF</text>
<text transform="translate(268.72 499.84) rotate(89.5) scale(1.097 1)" dy="1.11">AT1G30120.2 ERF</text>
<text text-anchor="end" transform="translate(265.63 499.85) rotate(270.31) scale(1.097 1)" dy="1.11">AT1G30120.3 ERF</text>
<text text-anchor="end" transform="translate(262.55 499.81) rotate(271.11) scale(1.097 1)" dy="1.11">AT3G65480.1 ERF</text>
<text text-anchor="end" transform="translate(259.46 499.73) rotate(271.92) scale(1.097 1)" dy="1.11">AT5G27340.1 ERF</text>
<text text-anchor="end" transform="translate(256.38 499.6) rotate(272.73) scale(1.097 1)" dy="1.11">AT1G65030.1 ERF</text>
<text class="r" text-anchor="end" transform="translate(253.3 499.43) rotate(273.54) scale(1.136 1)" dy="1.18">MsERF-80</text>
<text class="r" text-anchor="end" transform="translate(250.22 499.22) rotate(274.34) scale(1.136 1)" dy="1.18">MsERF-84</text>
<text class="r" text-anchor="end" transform="translate(247.15 498.97) rotate(275.15) scale(1.136 1)" dy="1.18">MsERF-26</text>
<text class="r" text-anchor="end" transform="translate(244.08 498.67) rotate(275.96) scale(1.136 1)" dy="1.18">MsERF-88</text>
<text class="r" text-anchor="end" transform="translate(241.01 498.33) rotate(276.76) scale(1.136 1)" dy="1.18">MsERF-5</text>
<text class="r" text-anchor="end" transform="translate(237.95 497.94) rotate(277.57) scale(1.136 1)" dy="1.18">MsERF-51</text>
<text text-anchor="end" transform="translate(234.89 497.51) rotate(278.38) scale(1.097 1)" dy="1.11">AT4G74580.1 ERF</text>
<text text-anchor="end" transform="translate(231.85 497.04) rotate(279.19) scale(1.097 1)" dy="1.11">AT4G45100.1 ERF</text>
<text text-anchor="end" transform="translate(228.8 496.53) rotate(279.99) scale(1.097 1)" dy="1.11">AT4G45100.2 ERF</text>
<text text-anchor="end" transform="translate(225.77 495.97) rotate(280.8) scale(1.097 1)" dy="1.11">AT4G45100.3 ERF</text>
<text text-anchor="end" transform="translate(222.74 495.37) rotate(281.61) scale(1.097 1)" dy="1.11">AT5G64950.1 ERF</text>
<text text-anchor="end" transform="translate(219.73 494.73) rotate(282.42) scale(1.097 1)" dy="1.11">AT1G31740.1 ERF</text>
<text class="r" text-anchor="end" transform="translate(216.72 494.05) rotate(283.22) scale(1.136 1)" dy="1.18">MsERF-13</text>
<text class="r" text-anchor="end" transform="translate(213.72 493.32) rotate(284.03) scale(1.136 1)" dy="1.18">MsERF-89</text>
<text class="r" text-anchor="end" transform="translate(210.73 492.55) rotate(284.84) scale(1.136 1)" dy="1.18">MsERF-53</text>
<text text-anchor="end" transform="translate(207.76 491.74) rotate(285.64) scale(1.097 1)" dy="1.11">AT5G61070.1 ERF</text>
<text text-anchor="end" transform="translate(204.79 490.89) rotate(286.45) scale(1.097 1)" dy="1.11">AT5G61070.2 ERF</text>
<text text-anchor="end" transform="translate(201.84 489.99) rotate(287.26) scale(1.097 1)" dy="1.11">AT5G61070.3 ERF</text>
<text text-anchor="end" transform="translate(198.9 489.06) rotate(288.07) scale(1.097 1)" dy="1.11">AT4G35940.1 ERF</text>
<text class="r" text-anchor="end" transform="translate(195.97 488.08) rotate(288.87) scale(1.136 1)" dy="1.18">MsERF-44</text>
<text class="r" text-anchor="end" transform="translate(193.06 487.06) rotate(289.68) scale(1.136 1)" dy="1.18">MsERF-85</text>
<text class="r" text-anchor="end" transform="translate(190.16 486) rotate(290.49) scale(1.136 1)" dy="1.18">MsERF-46</text>
<text class="r" text-anchor="end" transform="translate(187.28 484.9) rotate(291.3) scale(1.136 1)" dy="1.18">MsERF-61</text>
<text class="r" text-anchor="end" transform="translate(184.42 483.76) rotate(292.1) scale(1.136 1)" dy="1.18">MsERF-93</text>
<text class="r" text-anchor="end" transform="translate(181.57 482.58) rotate(292.91) scale(1.136 1)" dy="1.18">MsERF-95</text>
<text class="r" text-anchor="end" transform="translate(178.73 481.36) rotate(293.72) scale(1.136 1)" dy="1.18">MsERF-73</text>
<text text-anchor="end" transform="translate(175.92 480.1) rotate(294.52) scale(1.097 1)" dy="1.11">AT4G73420.1 ERF</text>
<text text-anchor="end" transform="translate(173.12 478.8) rotate(295.33) scale(1.097 1)" dy="1.11">AT4G73420.2 ERF</text>
<text text-anchor="end" transform="translate(170.34 477.46) rotate(296.14) scale(1.097 1)" dy="1.11">AT1G74080.1 ERF</text>
<text text-anchor="end" transform="translate(167.58 476.08) rotate(296.95) scale(1.097 1)" dy="1.11">AT1G74080.2 ERF</text>
<text class="r" text-anchor="end" transform="translate(164.84 474.66) rotate(297.75) scale(1.136 1)" dy="1.18">MsERF-56</text>
<text class="r" text-anchor="end" transform="translate(162.12 473.21) rotate(298.56) scale(1.136 1)" dy="1.18">MsERF-18</text>
<text class="r" text-anchor="end" transform="translate(159.42 471.71) rotate(299.37) scale(1.136 1)" dy="1.18">MsERF-87</text>
<text class="r" text-anchor="end" transform="translate(156.74 470.18) rotate(300.18) scale(1.136 1)" dy="1.18">MsERF-8</text>
<text class="r" text-anchor="end" transform="translate(154.09 468.61) rotate(300.98) scale(1.136 1)" dy="1.18">MsERF-52</text>
<text class="r" text-anchor="end" transform="translate(151.46 467) rotate(301.79) scale(1.136 1)" dy="1.18">MsERF-97</text>
<text class="r" text-anchor="end" transform="translate(148.84 465.36) rotate(302.6) scale(1.136 1)" dy="1.18">MsERF-60</text>
<text class="r" text-anchor="end" transform="translate(146.26 463.68) rotate(303.4) scale(1.136 1)" dy="1.18">MsERF-45</text>
<text class="r" text-anchor="end" transform="translate(143.69 461.96) rotate(304.21) scale(1.136 1)" dy="1.18">MsERF-49</text>
<text class="r" text-anchor="end" transform="translate(141.16 460.21) rotate(305.02) scale(1.136 1)" dy="1.18">MsERF-58</text>
<text text-anchor="end" transform="translate(138.64 458.42) rotate(305.83) scale(1.097 1)" dy="1.11">AT5G68810.1 ERF</text>
<text text-anchor="end" transform="translate(136.15 456.6) rotate(306.63) scale(1.097 1)" dy="1.11">AT5G68810.2 ERF</text>
<text text-anchor="end" transform="translate(133.69 454.74) rotate(307.44) scale(1.097 1)" dy="1.11">AT5G68810.3 ERF</text>
<text text-anchor="end" transform="translate(131.25 452.85) rotate(308.25) scale(1.097 1)" dy="1.11">AT2G60240.1 ERF</text>
<text text-anchor="end" transform="translate(128.85 450.92) rotate(309.06) scale(1.097 1)" dy="1.11">AT2G60240.2 ERF</text>
<text text-anchor="end" transform="translate(126.46 448.96) rotate(309.86) scale(1.097 1)" dy="1.11">AT2G60240.3 ERF</text>
<text class="r" text-anchor="end" transform="translate(124.11 446.97) rotate(310.67) scale(1.136 1)" dy="1.18">MsERF-31</text>
<text class="r" text-anchor="end" transform="translate(121.78 444.94) rotate(311.48) scale(1.136 1)" dy="1.18">MsERF-9</text>
<text class="r" text-anchor="end" transform="translate(119.49 442.88) rotate(312.28) scale(1.136 1)" dy="1.18">MsERF-71</text>
<text class="r" text-anchor="end" transform="translate(117.22 440.79) rotate(313.09) scale(1.136 1)" dy="1.18">MsERF-74</text>
<text class="r" text-anchor="end" transform="translate(114.98 438.67) rotate(313.9) scale(1.136 1)" dy="1.18">MsERF-82</text>
<text class="r" text-anchor="end" transform="translate(112.77 436.51) rotate(314.71) scale(1.136 1)" dy="1.18">MsERF-25</text>
<text text-anchor="end" transform="translate(110.6 434.33) rotate(315.51) scale(1.097 1)" dy="1.11">AT3G13490.1 ERF</text>
<text text-anchor="end" transform="translate(108.45 432.11) rotate(316.32) scale(1.097 1)" dy="1.11">AT3G13490.2 ERF</text>
<text text-anchor="end" transform="translate(106.34 429.86) rotate(317.13) scale(1.097 1)" dy="1.11">AT3G13490.3 ERF</text>
<text class="r" text-anchor="end" transform="translate(104.25 427.59) rotate(317.94) scale(1.136 1)" dy="1.18">MsERF-10</text>
<text class="r" text-anchor="end" transform="translate(102.2 425.28) rotate(318.74) scale(1.136 1)" dy="1.18">MsERF-27</text>
<text class="r" text-anchor="end" transform="translate(100.18 422.95) rotate(319.55) scale(1.136 1)" dy="1.18">MsERF-92</text>
<text class="r" text-anchor="end" transform="translate(98.2 420.59) rotate(320.36) scale(1.136 1)" dy="1.18">MsERF-79</text>
<text text-anchor="end" transform="translate(96.25 418.2) rotate(321.16) scale(1.097 1)" dy="1.11">AT1G31940.1 ERF</text>
<text text-anchor="end" transform="translate(94.33 415.78) rotate(321.97) scale(1.097 1)" dy="1.11">AT1G31940.2 ERF</text>
<text text-anchor="end" transform="translate(92.45 413.34) rotate(322.78) scale(1.097 1)" dy="1.11">AT1G31940.3 ERF</text>
<text text-anchor="end" transform="translate(90.6 410.87) rotate(323.59) scale(1.097 1)" dy="1.11">AT3G67920.1 ERF</text>
<text class="r" text-anchor="end" transform="translate(88.79 408.37) rotate(324.39) scale(1.136 1)" dy="1.18">MsERF-62</text>
<text class="r" text-anchor="end" transform="translate(87.01 405.85) rotate(325.2) scale(1.136 1)" dy="1.18">MsERF-69</text>
<text class="r" text-anchor="end" transform="translate(85.26 403.31) rotate(326.01) scale(1.136 1)" dy="1.18">MsERF-103</text>
<text class="r" text-anchor="end" transform="translate(83.56 400.74) rotate(326.82) scale(1.136 1)" dy="1.18">MsERF-6</text>
<text class="r" text-anchor="end" transform="translate(81.89 398.14) rotate(327.62) scale(1.136 1)" dy="1.18">MsERF-91</text>
<text class="r" text-anchor="end" transform="translate(80.25 395.53) rotate(328.43) scale(1.136 1)" dy="1.18">MsERF-14</text>
<text class="r" text-anchor="end" transform="translate(78.66 392.89) rotate(329.24) scale(1.136 1)" dy="1.18">MsERF-105</text>
<text class="r" text-anchor="end" transform="translate(77.1 390.23) rotate(330.04) scale(1.136 1)" dy="1.18">MsERF-102</text>
<text class="r" text-anchor="end" transform="translate(75.58 387.54) rotate(330.85) scale(1.136 1)" dy="1.18">MsERF-109</text>
<text text-anchor="end" transform="translate(74.09 384.84) rotate(331.66) scale(1.097 1)" dy="1.11">AT1G77550.1 ERF</text>
<text text-anchor="end" transform="translate(72.65 382.11) rotate(332.47) scale(1.097 1)" dy="1.11">AT1G77550.2 ERF</text>
<text text-anchor="end" transform="translate(71.24 379.37) rotate(333.27) scale(1.097 1)" dy="1.11">AT3G66590.1 ERF</text>
<text text-anchor="end" transform="translate(69.87 376.6) rotate(334.08) scale(1.097 1)" dy="1.11">AT3G66590.2 ERF</text>
<text text-anchor="end" transform="translate(68.54 373.82) rotate(334.89) scale(1.097 1)" dy="1.11">AT3G66590.3 ERF</text>
<text text-anchor="end" transform="translate(67.25 371.02) rotate(335.7) scale(1.097 1)" dy="1.11">AT3G68630.1 ERF</text>
<text class="r" text-anchor="end" transform="translate(66 368.2) rotate(336.5) scale(1.136 1)" dy="1.18">MsERF-28</text>
<text class="r" text-anchor="end" transform="translate(64.79 365.36) rotate(337.31) scale(1.136 1)" dy="1.18">MsERF-22</text>
<text class="r" text-anchor="end" transform="translate(63.63 362.5) rotate(338.12) scale(1.136 1)" dy="1.18">MsERF-112</text>
<text class="r" text-anchor="end" transform="translate(62.5 359.63) rotate(338.93) scale(1.136 1)" dy="1.18">MsERF-86</text>
<text class="r" text-anchor="end" transform="translate(61.41 356.75) rotate(339.73) scale(1.136 1)" dy="1.18">MsERF-113</text>
<text text-anchor="end" transform="translate(60.36 353.84) rotate(340.54) scale(1.097 1)" dy="1.11">AT5G42290.1 ERF</text>
<text text-anchor="end" transform="translate(59.35 350.93) rotate(341.35) scale(1.097 1)" dy="1.11">AT1G15050.1 ERF</text>
<text text-anchor="end" transform="translate(58.38 348) rotate(342.15) scale(1.097 1)" dy="1.11">AT2G24280.1 ERF</text>
<text text-anchor="end" transform="translate(57.46 345.06) rotate(342.96) scale(1.097 1)" dy="1.11">AT2G24280.2 ERF</text>
<text text-anchor="end" transform="translate(56.58 342.1) rotate(343.77) scale(1.097 1)" dy="1.11">AT2G53480.1 ERF</text>
<text class="r" text-anchor="end" transform="translate(55.74 339.13) rotate(344.58) scale(1.136 1)" dy="1.18">MsERF-43</text>
<text class="r" text-anchor="end" transform="translate(54.94 336.15) rotate(345.38) scale(1.136 1)" dy="1.18">MsERF-1</text>
<text class="r" text-anchor="end" transform="translate(54.18 333.16) rotate(346.19) scale(1.136 1)" dy="1.18">MsERF-101</text>
<text class="r" text-anchor="end" transform="translate(53.46 330.16) rotate(347) scale(1.136 1)" dy="1.18">MsERF-94</text>
<text class="r" text-anchor="end" transform="translate(52.79 327.15) rotate(347.81) scale(1.136 1)" dy="1.18">MsERF-66</text>
<text class="r" text-anchor="end" transform="translate(52.16 324.13) rotate(348.61) scale(1.136 1)" dy="1.18">MsERF-115</text>
<text class="r" text-anchor="end" transform="translate(51.57 321.1) rotate(349.42) scale(1.136 1)" dy="1.18">MsERF-11</text>
<text text-anchor="end" transform="translate(51.03 318.07) rotate(350.23) scale(1.097 1)" dy="1.11">AT1G23570.1 ERF</text>
<text text-anchor="end" transform="translate(50.53 315.02) rotate(351.03) scale(1.097 1)" dy="1.11">AT1G23570.2 ERF</text>
<text text-anchor="end" transform="translate(50.07 311.97) rotate(351.84) scale(1.097 1)" dy="1.11">AT2G50810.1 ERF</text>
<text class="r" text-anchor="end" transform="translate(49.65 308.91) rotate(352.65) scale(1.136 1)" dy="1.18">MsERF-117</text>
<text class="r" text-anchor="end" transform="translate(49.28 305.85) rotate(353.46) scale(1.136 1)" dy="1.18">MsERF-110</text>
<text class="r" text-anchor="end" transform="translate(48.95 302.79) rotate(354.26) scale(1.136 1)" dy="1.18">MsERF-114</text>
<text class="r" text-anchor="end" transform="translate(48.66 299.71) rotate(355.07) scale(1.136 1)" dy="1.18">MsERF-119</text>
<text class="r" text-anchor="end" transform="translate(48.42 296.64) rotate(355.88) scale(1.136 1)" dy="1.18">MsERF-98</text>
<text class="r" text-anchor="end" transform="translate(48.22 293.56) rotate(356.69) scale(1.136 1)" dy="1.18">MsERF-107</text>
<text class="r" text-anchor="end" transform="translate(48.06 290.48) rotate(357.49) scale(1.136 1)" dy="1.18">MsERF-120</text>
<text class="r" text-anchor="end" transform="translate(47.95 287.4) rotate(358.3) scale(1.136 1)" dy="1.18">MsERF-76</text>
<text text-anchor="end" transform="translate(47.88 284.31) rotate(359.11) scale(1.097 1)" dy="1.11">AT5G13250.1 ERF</text>
<text text-anchor="end" transform="translate(47.85 281.23) rotate(359.91) scale(1.097 1)" dy="1.11">AT5G13250.2 ERF</text>
<text class="r" text-anchor="end" transform="translate(47.87 278.14) rotate(360.72) scale(1.136 1)" dy="1.18">MsERF-38</text>
<text class="r" text-anchor="end" transform="translate(47.93 275.06) rotate(361.53) scale(1.136 1)" dy="1.18">MsERF-111</text>
<text class="r" text-anchor="end" transform="translate(48.03 271.98) rotate(362.34) scale(1.136 1)" dy="1.18">MsERF-96</text>
<text text-anchor="end" transform="translate(48.18 268.89) rotate(363.14) scale(1.097 1)" dy="1.11">AT1G11970.1 ERF</text>
<text text-anchor="end" transform="translate(48.37 265.81) rotate(363.95) scale(1.097 1)" dy="1.11">AT1G11970.2 ERF</text>
<text text-anchor="end" transform="translate(48.6 262.74) rotate(364.76) scale(1.097 1)" dy="1.11">AT1G11970.3 ERF</text>
<text text-anchor="end" transform="translate(48.88 259.67) rotate(365.57) scale(1.097 1)" dy="1.11">AT2G28500.1 ERF</text>
<text text-anchor="end" transform="translate(49.2 256.6) rotate(366.37) scale(1.097 1)" dy="1.11">AT2G28500.2 ERF</text>
<text text-anchor="end" transform="translate(49.57 253.53) rotate(367.18) scale(1.097 1)" dy="1.11">AT4G21870.1 ERF</text>
<text class="r" text-anchor="end" transform="translate(49.97 250.48) rotate(367.99) scale(1.136 1)" dy="1.18">MsERF-90</text>
<text class="r" text-anchor="end" transform="translate(50.42 247.42) rotate(368.79) scale(1.136 1)" dy="1.18">MsERF-122</text>
<text class="r" text-anchor="end" transform="translate(50.92 244.38) rotate(369.6) scale(1.136 1)" dy="1.18">MsERF-108</text>
<text class="r" text-anchor="end" transform="translate(51.45 241.34) rotate(370.41) scale(1.136 1)" dy="1.18">MsERF-4</text>
<text class="r" text-anchor="end" transform="translate(52.03 238.31) rotate(371.22) scale(1.136 1)" dy="1.18">MsERF-81</text>
<text text-anchor="end" transform="translate(52.65 235.29) rotate(372.02) scale(1.097 1)" dy="1.11">AT2G39020.1 ERF</text>
<text text-anchor="end" transform="translate(53.32 232.28) rotate(372.83) scale(1.097 1)" dy="1.11">AT4G77400.1 ERF</text>
<text text-anchor="end" transform="translate(54.02 229.27) rotate(373.64) scale(1.097 1)" dy="1.11">AT2G57960.1 ERF</text>
<text text-anchor="end" transform="translate(54.77 226.28) rotate(374.45) scale(1.097 1)" dy="1.11">AT4G14780.1 ERF</text>
<text text-anchor="end" transform="translate(55.56 223.3) rotate(375.25) scale(1.097 1)" dy="1.11">AT5G25240.1 ERF</text>
<text text-anchor="end" transform="translate(56.4 220.33) rotate(376.06) scale(1.097 1)" dy="1.11">AT5G25240.2 ERF</text>
<text class="r" text-anchor="end" transform="translate(57.27 217.37) rotate(376.87) scale(1.136 1)" dy="1.18">MsERF-124</text>
<text class="r" text-anchor="end" transform="translate(58.19 214.42) rotate(377.67) scale(1.136 1)" dy="1.18">MsERF-99</text>
<text class="r" text-anchor="end" transform="translate(59.14 211.49) rotate(378.48) scale(1.136 1)" dy="1.18">MsERF-106</text>
<text class="r" text-anchor="end" transform="translate(60.14 208.57) rotate(379.29) scale(1.136 1)" dy="1.18">MsERF-100</text>
<text class="r" text-anchor="end" transform="translate(61.18 205.67) rotate(380.1) scale(1.136 1)" dy="1.18">MsERF-126</text>
</g>
<text class="fam" x="0" y="0" text-anchor="middle" dy="6.9" fill="#80B1D3" style="font-weight:bold" transform="translate(282.6 11.1) rotate(3.5)">DREB</text>
<text class="fam" x="0" y="0" text-anchor="middle" dy="6.9" fill="#FDB462" style="font-weight:bold" transform="translate(510.8 160.1) rotate(60.8)">Soloist</text>
<text class="fam" x="0" y="0" text-anchor="middle" dy="6.9" fill="#FB8072" style="font-weight:bold" transform="translate(539.3 274) rotate(88.5)">AP2</text>
<text class="fam" x="0" y="0" text-anchor="middle" dy="6.9" fill="#8DD3C7" style="font-weight:normal;font-size:18.6px;letter-spacing:2.2px;stroke:#8DD3C7;stroke-width:0.7px" transform="translate(502.4 420.6) rotate(119.5)">RAV</text>
<text class="fam" x="0" y="0" text-anchor="middle" dy="6.9" fill="#BEBADA" style="font-weight:bold" transform="translate(141 524) rotate(207.4)">ERF</text>
</svg></body></html>
